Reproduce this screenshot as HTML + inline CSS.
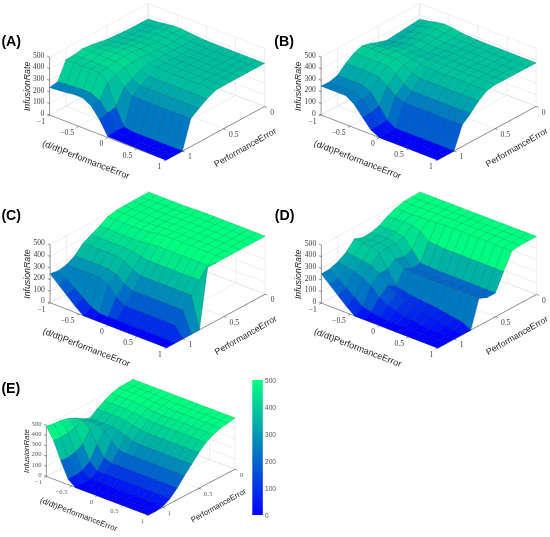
<!DOCTYPE html>
<html><head><meta charset="utf-8"><style>html,body{margin:0;padding:0;background:#fff}svg{display:block}</style></head>
<body><svg width="550" height="537" viewBox="0 0 550 537">
<rect width="550" height="537" fill="#fff"/>
<g stroke="#dedede" stroke-width="0.5" fill="none">
<line x1="49.6" y1="115.1" x2="148.2" y2="61.6"/>
<line x1="148.2" y1="61.6" x2="264.6" y2="106.5"/>
<line x1="49.6" y1="103.5" x2="148.2" y2="50"/>
<line x1="148.2" y1="50" x2="264.6" y2="94.9"/>
<line x1="49.6" y1="91.9" x2="148.2" y2="38.4"/>
<line x1="148.2" y1="38.4" x2="264.6" y2="83.3"/>
<line x1="49.6" y1="80.3" x2="148.2" y2="26.8"/>
<line x1="148.2" y1="26.8" x2="264.6" y2="71.7"/>
<line x1="49.6" y1="68.7" x2="148.2" y2="15.2"/>
<line x1="148.2" y1="15.2" x2="264.6" y2="60.1"/>
<line x1="49.6" y1="57.1" x2="148.2" y2="3.6"/>
<line x1="148.2" y1="3.6" x2="264.6" y2="48.5"/>
<line x1="148.2" y1="61.6" x2="148.2" y2="3.6"/>
<line x1="148.2" y1="61.6" x2="49.6" y2="115.1"/>
<line x1="177.3" y1="72.82" x2="177.3" y2="14.82"/>
<line x1="177.3" y1="72.82" x2="78.7" y2="126.32"/>
<line x1="206.4" y1="84.05" x2="206.4" y2="26.05"/>
<line x1="206.4" y1="84.05" x2="107.8" y2="137.55"/>
<line x1="235.5" y1="95.27" x2="235.5" y2="37.27"/>
<line x1="235.5" y1="95.27" x2="136.9" y2="148.77"/>
<line x1="264.6" y1="106.5" x2="264.6" y2="48.5"/>
<line x1="264.6" y1="106.5" x2="166" y2="160"/>
<line x1="148.2" y1="61.6" x2="148.2" y2="3.6"/>
<line x1="148.2" y1="61.6" x2="264.6" y2="106.5"/>
<line x1="107.12" y1="83.89" x2="107.12" y2="25.89"/>
<line x1="107.12" y1="83.89" x2="223.52" y2="128.79"/>
<line x1="66.03" y1="106.18" x2="66.03" y2="48.18"/>
<line x1="66.03" y1="106.18" x2="182.43" y2="151.08"/>
</g>
<g stroke="#4d4d4d" stroke-width="0.6" fill="none"><line x1="49.6" y1="115.1" x2="49.6" y2="57.1"/><line x1="49.6" y1="115.1" x2="166" y2="160"/><line x1="166" y1="160" x2="264.6" y2="106.5"/><line x1="49.6" y1="115.1" x2="47.17" y2="114.16"/><line x1="49.6" y1="103.5" x2="47.17" y2="102.56"/><line x1="49.6" y1="91.9" x2="47.17" y2="90.96"/><line x1="49.6" y1="80.3" x2="47.17" y2="79.36"/><line x1="49.6" y1="68.7" x2="47.17" y2="67.76"/><line x1="49.6" y1="57.1" x2="47.17" y2="56.16"/><line x1="49.6" y1="115.1" x2="47.31" y2="116.34"/><line x1="78.7" y1="126.32" x2="76.41" y2="127.56"/><line x1="107.8" y1="137.55" x2="105.51" y2="138.79"/><line x1="136.9" y1="148.77" x2="134.61" y2="150.01"/><line x1="166" y1="160" x2="163.71" y2="161.24"/><line x1="264.6" y1="106.5" x2="267.03" y2="107.44"/><line x1="223.52" y1="128.79" x2="225.94" y2="129.73"/><line x1="182.43" y1="151.08" x2="184.86" y2="152.02"/></g>
<g stroke-width="0.5" stroke-linejoin="round"><path d="M148.2 19.06L156.51 21.68L148.3 25.96L139.98 23.34Z" fill="#00baa2" stroke="#00917e"/><path d="M156.51 21.68L164.83 23.72L156.61 28.01L148.3 25.96Z" fill="#00bea0" stroke="#00947c"/><path d="M139.98 23.34L148.3 25.96L140.08 30.25L131.77 27.63Z" fill="#00bea0" stroke="#00947c"/><path d="M164.83 23.72L173.14 25.81L164.93 30.1L156.61 28.01Z" fill="#00c29e" stroke="#00977b"/><path d="M148.3 25.96L156.61 28.01L148.4 32.29L140.08 30.25Z" fill="#00bea0" stroke="#00947c"/><path d="M131.77 27.63L140.08 30.25L131.86 34.47L123.55 31.85Z" fill="#00bea0" stroke="#00947c"/><path d="M173.14 25.81L181.46 28.97L173.24 33.27L164.93 30.1Z" fill="#00ca9a" stroke="#009d78"/><path d="M156.61 28.01L164.93 30.1L156.71 34.38L148.4 32.29Z" fill="#00c69c" stroke="#009a79"/><path d="M140.08 30.25L148.4 32.29L140.18 36.52L131.86 34.47Z" fill="#00bea0" stroke="#00947c"/><path d="M181.46 28.97L189.77 33.03L181.55 37.38L173.24 33.27Z" fill="#00ca9a" stroke="#009d78"/><path d="M123.55 31.85L131.86 34.47L123.65 38.24L115.33 35.62Z" fill="#00bea0" stroke="#00947c"/><path d="M164.93 30.1L173.24 33.27L165.02 37.56L156.71 34.38Z" fill="#00ca9a" stroke="#009d78"/><path d="M148.4 32.29L156.71 34.38L148.49 38.61L140.18 36.52Z" fill="#00c69c" stroke="#009a79"/><path d="M189.77 33.03L198.09 37.06L189.87 41.49L181.55 37.38Z" fill="#00c69c" stroke="#009a79"/><path d="M131.86 34.47L140.18 36.52L131.96 40.28L123.65 38.24Z" fill="#00c29e" stroke="#00977b"/><path d="M173.24 33.27L181.55 37.38L173.34 41.73L165.02 37.56Z" fill="#00ca9a" stroke="#009d78"/><path d="M115.33 35.62L123.65 38.24L115.43 42L107.12 39.38Z" fill="#00c29e" stroke="#00977b"/><path d="M156.71 34.38L165.02 37.56L156.81 41.8L148.49 38.61Z" fill="#00ca9a" stroke="#009d78"/><path d="M198.09 37.06L206.4 40.7L198.18 45.15L189.87 41.49Z" fill="#00c29e" stroke="#00977b"/><path d="M140.18 36.52L148.49 38.61L140.28 42.37L131.96 40.28Z" fill="#00c69c" stroke="#009a79"/><path d="M181.55 37.38L189.87 41.49L181.65 45.91L173.34 41.73Z" fill="#00c69c" stroke="#009a79"/><path d="M123.65 38.24L131.96 40.28L123.75 44.04L115.43 42Z" fill="#00c29e" stroke="#00977b"/><path d="M165.02 37.56L173.34 41.73L165.12 46.05L156.81 41.8Z" fill="#00ca9a" stroke="#009d78"/><path d="M107.12 39.38L115.43 42L107.21 44.95L98.9 42.33Z" fill="#00c69c" stroke="#009a79"/><path d="M206.4 40.7L214.71 44.07L206.5 48.53L198.18 45.15Z" fill="#00bea0" stroke="#00947c"/><path d="M148.49 38.61L156.81 41.8L148.59 45.6L140.28 42.37Z" fill="#00ca9a" stroke="#009d78"/><path d="M189.87 41.49L198.18 45.15L189.97 49.61L181.65 45.91Z" fill="#00c29e" stroke="#00977b"/><path d="M131.96 40.28L140.28 42.37L132.06 46.13L123.75 44.04Z" fill="#00ca9a" stroke="#009d78"/><path d="M173.34 41.73L181.65 45.91L173.44 50.32L165.12 46.05Z" fill="#00c69c" stroke="#009a79"/><path d="M115.43 42L123.75 44.04L115.53 46.99L107.21 44.95Z" fill="#00c69c" stroke="#009a79"/><path d="M214.71 44.07L223.03 47.31L214.81 51.77L206.5 48.53Z" fill="#00bea0" stroke="#00947c"/><path d="M156.81 41.8L165.12 46.05L156.9 50.09L148.59 45.6Z" fill="#00ca9a" stroke="#009d78"/><path d="M98.9 42.33L107.21 44.95L99 48.06L90.68 45.15Z" fill="#00ca9a" stroke="#009d78"/><path d="M198.18 45.15L206.5 48.53L198.28 52.99L189.97 49.61Z" fill="#00bea0" stroke="#00947c"/><path d="M140.28 42.37L148.59 45.6L140.37 49.4L132.06 46.13Z" fill="#00ce98" stroke="#00a076"/><path d="M181.65 45.91L189.97 49.61L181.75 54.07L173.44 50.32Z" fill="#00c29e" stroke="#00977b"/><path d="M123.75 44.04L132.06 46.13L123.84 49.08L115.53 46.99Z" fill="#00ce98" stroke="#00a076"/><path d="M223.03 47.31L231.34 50.52L223.13 54.98L214.81 51.77Z" fill="#00bea0" stroke="#00947c"/><path d="M165.12 46.05L173.44 50.32L165.22 54.64L156.9 50.09Z" fill="#00c69c" stroke="#009a79"/><path d="M107.21 44.95L115.53 46.99L107.31 50.69L99 48.06Z" fill="#00ce98" stroke="#00a076"/><path d="M206.5 48.53L214.81 51.77L206.6 56.23L198.28 52.99Z" fill="#00bea0" stroke="#00947c"/><path d="M148.59 45.6L156.9 50.09L148.69 54.12L140.37 49.4Z" fill="#00ce98" stroke="#00a076"/><path d="M90.68 45.15L99 48.06L90.78 51.99L82.47 48.78Z" fill="#00d296" stroke="#00a375"/><path d="M189.97 49.61L198.28 52.99L190.06 57.45L181.75 54.07Z" fill="#00bea0" stroke="#00947c"/><path d="M132.06 46.13L140.37 49.4L132.16 52.46L123.84 49.08Z" fill="#00d296" stroke="#00a375"/><path d="M231.34 50.52L239.66 53.73L231.44 58.18L223.13 54.98Z" fill="#00bea0" stroke="#00947c"/><path d="M173.44 50.32L181.75 54.07L173.53 58.53L165.22 54.64Z" fill="#00c29e" stroke="#00977b"/><path d="M115.53 46.99L123.84 49.08L115.63 53.34L107.31 50.69Z" fill="#00d296" stroke="#00a375"/><path d="M214.81 51.77L223.13 54.98L214.91 59.44L206.6 56.23Z" fill="#00bea0" stroke="#00947c"/><path d="M156.9 50.09L165.22 54.64L157 58.97L148.69 54.12Z" fill="#00ca9a" stroke="#009d78"/><path d="M99 48.06L107.31 50.69L99.1 55.19L90.78 51.99Z" fill="#00d296" stroke="#00a375"/><path d="M198.28 52.99L206.6 56.23L198.38 60.68L190.06 57.45Z" fill="#00bea0" stroke="#00947c"/><path d="M140.37 49.4L148.69 54.12L140.47 57.85L132.16 52.46Z" fill="#00d296" stroke="#00a375"/><path d="M239.66 53.73L247.97 56.93L239.75 61.39L231.44 58.18Z" fill="#00bea0" stroke="#00947c"/><path d="M82.47 48.78L90.78 51.99L82.56 57.95L74.25 54.74Z" fill="#00d794" stroke="#00a773"/><path d="M181.75 54.07L190.06 57.45L181.85 61.91L173.53 58.53Z" fill="#00bea0" stroke="#00947c"/><path d="M123.84 49.08L132.16 52.46L123.94 56.54L115.63 53.34Z" fill="#00d794" stroke="#00a773"/><path d="M223.13 54.98L231.44 58.18L223.22 62.64L214.91 59.44Z" fill="#00bea0" stroke="#00947c"/><path d="M165.22 54.64L173.53 58.53L165.32 62.99L157 58.97Z" fill="#00c29e" stroke="#00977b"/><path d="M107.31 50.69L115.63 53.34L107.41 58.4L99.1 55.19Z" fill="#00d794" stroke="#00a773"/><path d="M206.6 56.23L214.91 59.44L206.69 63.89L198.38 60.68Z" fill="#00bea0" stroke="#00947c"/><path d="M148.69 54.12L157 58.97L148.79 63.5L140.47 57.85Z" fill="#00ca9a" stroke="#009d78"/><path d="M247.97 56.93L256.29 60.14L248.07 64.6L239.75 61.39Z" fill="#00bea0" stroke="#00947c"/><path d="M90.78 51.99L99.1 55.19L90.88 61.16L82.56 57.95Z" fill="#00d794" stroke="#00a773"/><path d="M190.06 57.45L198.38 60.68L190.16 65.14L181.85 61.91Z" fill="#00bea0" stroke="#00947c"/><path d="M132.16 52.46L140.47 57.85L132.25 62.03L123.94 56.54Z" fill="#00d794" stroke="#00a773"/><path d="M231.44 58.18L239.75 61.39L231.54 65.85L223.22 62.64Z" fill="#00bea0" stroke="#00947c"/><path d="M74.25 54.74L82.56 57.95L74.35 62.99L66.03 59.78Z" fill="#00ce98" stroke="#00a076"/><path d="M173.53 58.53L181.85 61.91L173.63 66.36L165.32 62.99Z" fill="#00bea0" stroke="#00947c"/><path d="M115.63 53.34L123.94 56.54L115.72 61.61L107.41 58.4Z" fill="#00db92" stroke="#00aa71"/><path d="M214.91 59.44L223.22 62.64L215.01 67.1L206.69 63.89Z" fill="#00bea0" stroke="#00947c"/><path d="M157 58.97L165.32 62.99L157.1 67.91L148.79 63.5Z" fill="#00c29e" stroke="#00977b"/><path d="M256.29 60.14L264.6 63.35L256.38 67.81L248.07 64.6Z" fill="#00bea0" stroke="#00947c"/><path d="M99.1 55.19L107.41 58.4L99.19 64.37L90.88 61.16Z" fill="#00d794" stroke="#00a773"/><path d="M198.38 60.68L206.69 63.89L198.48 68.35L190.16 65.14Z" fill="#00bea0" stroke="#00947c"/><path d="M140.47 57.85L148.79 63.5L140.57 70.26L132.25 62.03Z" fill="#00ce98" stroke="#00a076"/><path d="M239.75 61.39L248.07 64.6L239.85 69.06L231.54 65.85Z" fill="#00bea0" stroke="#00947c"/><path d="M82.56 57.95L90.88 61.16L82.66 66.2L74.35 62.99Z" fill="#00ce98" stroke="#00a076"/><path d="M181.85 61.91L190.16 65.14L181.95 69.6L173.63 66.36Z" fill="#00bea0" stroke="#00947c"/><path d="M123.94 56.54L132.25 62.03L124.04 67.76L115.72 61.61Z" fill="#00db92" stroke="#00aa71"/><path d="M223.22 62.64L231.54 65.85L223.32 70.31L215.01 67.1Z" fill="#00bea0" stroke="#00947c"/><path d="M66.03 59.78L74.35 62.99L66.13 84.39L57.82 81.64Z" fill="#00ce98" stroke="#00a076"/><path d="M165.32 62.99L173.63 66.36L165.41 71.29L157.1 67.91Z" fill="#00bea0" stroke="#00947c"/><path d="M107.41 58.4L115.72 61.61L107.51 67.57L99.19 64.37Z" fill="#00d794" stroke="#00a773"/><path d="M206.69 63.89L215.01 67.1L206.79 71.56L198.48 68.35Z" fill="#00bea0" stroke="#00947c"/><path d="M148.79 63.5L157.1 67.91L148.88 76.3L140.57 70.26Z" fill="#00c29e" stroke="#00977b"/><path d="M248.07 64.6L256.38 67.81L248.17 72.26L239.85 69.06Z" fill="#00bea0" stroke="#00947c"/><path d="M90.88 61.16L99.19 64.37L90.98 69.4L82.66 66.2Z" fill="#00ce98" stroke="#00a076"/><path d="M190.16 65.14L198.48 68.35L190.26 72.81L181.95 69.6Z" fill="#00bea0" stroke="#00947c"/><path d="M132.25 62.03L140.57 70.26L132.35 78.54L124.04 67.76Z" fill="#00ce98" stroke="#00a076"/><path d="M231.54 65.85L239.85 69.06L231.64 73.52L223.32 70.31Z" fill="#00bea0" stroke="#00947c"/><path d="M74.35 62.99L82.66 66.2L74.45 87.13L66.13 84.39Z" fill="#00ce98" stroke="#00a076"/><path d="M173.63 66.36L181.95 69.6L173.73 74.52L165.41 71.29Z" fill="#00bea0" stroke="#00947c"/><path d="M115.72 61.61L124.04 67.76L115.82 74.58L107.51 67.57Z" fill="#00d794" stroke="#00a773"/><path d="M215.01 67.1L223.32 70.31L215.1 74.77L206.79 71.56Z" fill="#00bea0" stroke="#00947c"/><path d="M57.82 81.64L66.13 84.39L57.91 90L49.6 87.49Z" fill="#0082be" stroke="#006594"/><path d="M157.1 67.91L165.41 71.29L157.2 79.59L148.88 76.3Z" fill="#00bea0" stroke="#00947c"/><path d="M99.19 64.37L107.51 67.57L99.29 72.61L90.98 69.4Z" fill="#00ce98" stroke="#00a076"/><path d="M198.48 68.35L206.79 71.56L198.57 76.02L190.26 72.81Z" fill="#00bea0" stroke="#00947c"/><path d="M140.57 70.26L148.88 76.3L140.67 86.08L132.35 78.54Z" fill="#00baa2" stroke="#00917e"/><path d="M239.85 69.06L248.17 72.26L239.95 76.72L231.64 73.52Z" fill="#00bea0" stroke="#00947c"/><path d="M82.66 66.2L90.98 69.4L82.76 89.56L74.45 87.13Z" fill="#00ce98" stroke="#00a076"/><path d="M181.95 69.6L190.26 72.81L182.04 77.73L173.73 74.52Z" fill="#00bea0" stroke="#00947c"/><path d="M124.04 67.76L132.35 78.54L124.14 87.55L115.82 74.58Z" fill="#00ca9a" stroke="#009d78"/><path d="M223.32 70.31L231.64 73.52L223.42 77.97L215.1 74.77Z" fill="#00bea0" stroke="#00947c"/><path d="M66.13 84.39L74.45 87.13L66.23 92.52L57.91 90Z" fill="#0082be" stroke="#006594"/><path d="M165.41 71.29L173.73 74.52L165.51 82.81L157.2 79.59Z" fill="#00bea0" stroke="#00947c"/><path d="M107.51 67.57L115.82 74.58L107.6 83.28L99.29 72.61Z" fill="#00ce98" stroke="#00a076"/><path d="M206.79 71.56L215.1 74.77L206.89 79.23L198.57 76.02Z" fill="#00bea0" stroke="#00947c"/><path d="M148.88 76.3L157.2 79.59L148.98 89.28L140.67 86.08Z" fill="#00aaaa" stroke="#008484"/><path d="M90.98 69.4L99.29 72.61L91.07 93.14L82.76 89.56Z" fill="#00ce98" stroke="#00a076"/><path d="M190.26 72.81L198.57 76.02L190.36 80.94L182.04 77.73Z" fill="#00bea0" stroke="#00947c"/><path d="M132.35 78.54L140.67 86.08L132.45 96.33L124.14 87.55Z" fill="#00a6ac" stroke="#008186"/><path d="M231.64 73.52L239.95 76.72L231.73 81.18L223.42 77.97Z" fill="#00bea0" stroke="#00947c"/><path d="M74.45 87.13L82.76 89.56L74.54 94.56L66.23 92.52Z" fill="#0086bc" stroke="#006892"/><path d="M173.73 74.52L182.04 77.73L173.83 86.02L165.51 82.81Z" fill="#00bea0" stroke="#00947c"/><path d="M115.82 74.58L124.14 87.55L115.92 107.16L107.6 83.28Z" fill="#00bea0" stroke="#00947c"/><path d="M215.1 74.77L223.42 77.97L215.2 82.43L206.89 79.23Z" fill="#00bea0" stroke="#00947c"/><path d="M157.2 79.59L165.51 82.81L157.3 92.49L148.98 89.28Z" fill="#00aaaa" stroke="#008484"/><path d="M99.29 72.61L107.6 83.28L99.39 100.28L91.07 93.14Z" fill="#00ce98" stroke="#00a076"/><path d="M198.57 76.02L206.89 79.23L198.67 84.15L190.36 80.94Z" fill="#00bea0" stroke="#00947c"/><path d="M140.67 86.08L148.98 89.28L140.76 99.54L132.45 96.33Z" fill="#0096b4" stroke="#00758c"/><path d="M82.76 89.56L91.07 93.14L82.86 98.06L74.54 94.56Z" fill="#0086bc" stroke="#006892"/><path d="M182.04 77.73L190.36 80.94L182.14 89.23L173.83 86.02Z" fill="#00bea0" stroke="#00947c"/><path d="M124.14 87.55L132.45 96.33L124.23 127.04L115.92 107.16Z" fill="#0092b6" stroke="#00718d"/><path d="M223.42 77.97L231.73 81.18L223.52 85.64L215.2 82.43Z" fill="#00bea0" stroke="#00947c"/><path d="M165.51 82.81L173.83 86.02L165.61 95.7L157.3 92.49Z" fill="#00aaaa" stroke="#008484"/><path d="M107.6 83.28L115.92 107.16L107.7 113.03L99.39 100.28Z" fill="#00aaaa" stroke="#008484"/><path d="M206.89 79.23L215.2 82.43L206.99 87.35L198.67 84.15Z" fill="#00bea0" stroke="#00947c"/><path d="M148.98 89.28L157.3 92.49L149.08 102.75L140.76 99.54Z" fill="#0096b4" stroke="#00758c"/><path d="M91.07 93.14L99.39 100.28L91.17 105.89L82.86 98.06Z" fill="#0086bc" stroke="#006892"/><path d="M190.36 80.94L198.67 84.15L190.45 92.43L182.14 89.23Z" fill="#00bea0" stroke="#00947c"/><path d="M132.45 96.33L140.76 99.54L132.55 131.84L124.23 127.04Z" fill="#0079c2" stroke="#005e97"/><path d="M173.83 86.02L182.14 89.23L173.92 98.91L165.61 95.7Z" fill="#00aaaa" stroke="#008484"/><path d="M115.92 107.16L124.23 127.04L116.02 130.77L107.7 113.03Z" fill="#0051d7" stroke="#003fa7"/><path d="M215.2 82.43L223.52 85.64L215.3 90.56L206.99 87.35Z" fill="#00bea0" stroke="#00947c"/><path d="M157.3 92.49L165.61 95.7L157.39 105.96L149.08 102.75Z" fill="#0096b4" stroke="#00758c"/><path d="M99.39 100.28L107.7 113.03L99.49 119.52L91.17 105.89Z" fill="#0075c4" stroke="#005b98"/><path d="M198.67 84.15L206.99 87.35L198.77 95.64L190.45 92.43Z" fill="#00bea0" stroke="#00947c"/><path d="M140.76 99.54L149.08 102.75L140.86 135.05L132.55 131.84Z" fill="#0079c2" stroke="#005e97"/><path d="M182.14 89.23L190.45 92.43L182.24 102.11L173.92 98.91Z" fill="#00aaaa" stroke="#008484"/><path d="M124.23 127.04L132.55 131.84L124.33 136.3L116.02 130.77Z" fill="#0004fd" stroke="#0003c5"/><path d="M165.61 95.7L173.92 98.91L165.71 109.16L157.39 105.96Z" fill="#0096b4" stroke="#00758c"/><path d="M107.7 113.03L116.02 130.77L107.8 136.39L99.49 119.52Z" fill="#0049db" stroke="#0038aa"/><path d="M206.99 87.35L215.3 90.56L207.08 98.85L198.77 95.64Z" fill="#00bea0" stroke="#00947c"/><path d="M149.08 102.75L157.39 105.96L149.18 138.25L140.86 135.05Z" fill="#0079c2" stroke="#005e97"/><path d="M190.45 92.43L198.77 95.64L190.55 105.32L182.24 102.11Z" fill="#00aaaa" stroke="#008484"/><path d="M132.55 131.84L140.86 135.05L132.65 139.51L124.33 136.3Z" fill="#0000ff" stroke="#0000c6"/><path d="M173.92 98.91L182.24 102.11L174.02 112.37L165.71 109.16Z" fill="#0096b4" stroke="#00758c"/><path d="M116.02 130.77L124.33 136.3L116.11 139.76L107.8 136.39Z" fill="#0008fb" stroke="#0006c3"/><path d="M157.39 105.96L165.71 109.16L157.49 141.46L149.18 138.25Z" fill="#0079c2" stroke="#005e97"/><path d="M198.77 95.64L207.08 98.85L198.87 108.53L190.55 105.32Z" fill="#00aaaa" stroke="#008484"/><path d="M140.86 135.05L149.18 138.25L140.96 142.71L132.65 139.51Z" fill="#0000ff" stroke="#0000c6"/><path d="M182.24 102.11L190.55 105.32L182.34 115.58L174.02 112.37Z" fill="#0096b4" stroke="#00758c"/><path d="M124.33 136.3L132.65 139.51L124.43 143.14L116.11 139.76Z" fill="#0000ff" stroke="#0000c6"/><path d="M165.71 109.16L174.02 112.37L165.8 144.67L157.49 141.46Z" fill="#0079c2" stroke="#005e97"/><path d="M149.18 138.25L157.49 141.46L149.27 145.92L140.96 142.71Z" fill="#0000ff" stroke="#0000c6"/><path d="M190.55 105.32L198.87 108.53L190.65 118.78L182.34 115.58Z" fill="#0096b4" stroke="#00758c"/><path d="M132.65 139.51L140.96 142.71L132.74 146.51L124.43 143.14Z" fill="#0000ff" stroke="#0000c6"/><path d="M174.02 112.37L182.34 115.58L174.12 147.88L165.8 144.67Z" fill="#0079c2" stroke="#005e97"/><path d="M157.49 141.46L165.8 144.67L157.59 149.13L149.27 145.92Z" fill="#0000ff" stroke="#0000c6"/><path d="M140.96 142.71L149.27 145.92L141.06 149.88L132.74 146.51Z" fill="#0000ff" stroke="#0000c6"/><path d="M182.34 115.58L190.65 118.78L182.43 151.08L174.12 147.88Z" fill="#0079c2" stroke="#005e97"/><path d="M165.8 144.67L174.12 147.88L165.9 152.33L157.59 149.13Z" fill="#0000ff" stroke="#0000c6"/><path d="M149.27 145.92L157.59 149.13L149.37 153.25L141.06 149.88Z" fill="#0000ff" stroke="#0000c6"/><path d="M174.12 147.88L182.43 151.08L174.22 155.54L165.9 152.33Z" fill="#0000ff" stroke="#0000c6"/><path d="M157.59 149.13L165.9 152.33L157.69 156.63L149.37 153.25Z" fill="#0000ff" stroke="#0000c6"/><path d="M165.9 152.33L174.22 155.54L166 160L157.69 156.63Z" fill="#0000ff" stroke="#0000c6"/></g>
<g font-family="Liberation Serif, serif" font-size="7.6" fill="#3a3a3a"><text x="44.4" y="115.7" text-anchor="end">0</text><text x="44.4" y="104.1" text-anchor="end">100</text><text x="44.4" y="92.5" text-anchor="end">200</text><text x="44.4" y="80.9" text-anchor="end">300</text><text x="44.4" y="69.3" text-anchor="end">400</text><text x="44.4" y="57.7" text-anchor="end">500</text><text x="45" y="123.9" text-anchor="end">−1</text><text x="74.1" y="135.12" text-anchor="end">−0.5</text><text x="103.2" y="146.35" text-anchor="end">0</text><text x="132.3" y="157.57" text-anchor="end">0.5</text><text x="161.4" y="168.8" text-anchor="end">1</text><text x="270.2" y="114.7">0</text><text x="229.12" y="136.99">0.5</text><text x="188.03" y="159.28">1</text></g>
<g font-family="Liberation Sans, Arial, sans-serif" fill="#262626"><text transform="translate(29.6 86.4) rotate(-90)" font-size="8.8" font-style="italic" text-anchor="middle">InfusionRate</text><text transform="translate(84.9 162.4) rotate(21.09)" font-size="9.02" text-anchor="middle">(d/dt)PerformanceError</text><text transform="translate(246.7 149.9) rotate(-29.78)" font-size="8.8" text-anchor="middle">PerformanceError</text></g>
<g stroke="#dedede" stroke-width="0.5" fill="none">
<line x1="321.1" y1="115" x2="419.7" y2="61.5"/>
<line x1="419.7" y1="61.5" x2="536.1" y2="106.4"/>
<line x1="321.1" y1="103.4" x2="419.7" y2="49.9"/>
<line x1="419.7" y1="49.9" x2="536.1" y2="94.8"/>
<line x1="321.1" y1="91.8" x2="419.7" y2="38.3"/>
<line x1="419.7" y1="38.3" x2="536.1" y2="83.2"/>
<line x1="321.1" y1="80.2" x2="419.7" y2="26.7"/>
<line x1="419.7" y1="26.7" x2="536.1" y2="71.6"/>
<line x1="321.1" y1="68.6" x2="419.7" y2="15.1"/>
<line x1="419.7" y1="15.1" x2="536.1" y2="60"/>
<line x1="321.1" y1="57" x2="419.7" y2="3.5"/>
<line x1="419.7" y1="3.5" x2="536.1" y2="48.4"/>
<line x1="419.7" y1="61.5" x2="419.7" y2="3.5"/>
<line x1="419.7" y1="61.5" x2="321.1" y2="115"/>
<line x1="448.8" y1="72.72" x2="448.8" y2="14.72"/>
<line x1="448.8" y1="72.72" x2="350.2" y2="126.22"/>
<line x1="477.9" y1="83.95" x2="477.9" y2="25.95"/>
<line x1="477.9" y1="83.95" x2="379.3" y2="137.45"/>
<line x1="507" y1="95.18" x2="507" y2="37.18"/>
<line x1="507" y1="95.18" x2="408.4" y2="148.68"/>
<line x1="536.1" y1="106.4" x2="536.1" y2="48.4"/>
<line x1="536.1" y1="106.4" x2="437.5" y2="159.9"/>
<line x1="419.7" y1="61.5" x2="419.7" y2="3.5"/>
<line x1="419.7" y1="61.5" x2="536.1" y2="106.4"/>
<line x1="378.62" y1="83.79" x2="378.62" y2="25.79"/>
<line x1="378.62" y1="83.79" x2="495.02" y2="128.69"/>
<line x1="337.53" y1="106.08" x2="337.53" y2="48.08"/>
<line x1="337.53" y1="106.08" x2="453.93" y2="150.98"/>
</g>
<g stroke="#4d4d4d" stroke-width="0.6" fill="none"><line x1="321.1" y1="115" x2="321.1" y2="57"/><line x1="321.1" y1="115" x2="437.5" y2="159.9"/><line x1="437.5" y1="159.9" x2="536.1" y2="106.4"/><line x1="321.1" y1="115" x2="318.67" y2="114.06"/><line x1="321.1" y1="103.4" x2="318.67" y2="102.46"/><line x1="321.1" y1="91.8" x2="318.67" y2="90.86"/><line x1="321.1" y1="80.2" x2="318.67" y2="79.26"/><line x1="321.1" y1="68.6" x2="318.67" y2="67.66"/><line x1="321.1" y1="57" x2="318.67" y2="56.06"/><line x1="321.1" y1="115" x2="318.81" y2="116.24"/><line x1="350.2" y1="126.22" x2="347.91" y2="127.46"/><line x1="379.3" y1="137.45" x2="377.01" y2="138.69"/><line x1="408.4" y1="148.68" x2="406.11" y2="149.91"/><line x1="437.5" y1="159.9" x2="435.21" y2="161.14"/><line x1="536.1" y1="106.4" x2="538.53" y2="107.34"/><line x1="495.02" y1="128.69" x2="497.44" y2="129.63"/><line x1="453.93" y1="150.98" x2="456.36" y2="151.92"/></g>
<g stroke-width="0.5" stroke-linejoin="round"><path d="M419.7 19.19L428.01 21.12L419.8 26.45L411.48 24.52Z" fill="#00baa2" stroke="#00917e"/><path d="M428.01 21.12L436.33 22.29L428.11 27.62L419.8 26.45Z" fill="#00c29e" stroke="#00977b"/><path d="M411.48 24.52L419.8 26.45L411.58 31.77L403.27 29.85Z" fill="#00b6a4" stroke="#008d7f"/><path d="M436.33 22.29L444.64 24.17L436.43 29.5L428.11 27.62Z" fill="#00ca9a" stroke="#009d78"/><path d="M419.8 26.45L428.11 27.62L419.9 32.94L411.58 31.77Z" fill="#00bea0" stroke="#00947c"/><path d="M403.27 29.85L411.58 31.77L403.36 36.99L395.05 35.06Z" fill="#00b2a6" stroke="#008a81"/><path d="M444.64 24.17L452.96 28.13L444.74 33.45L436.43 29.5Z" fill="#00ce98" stroke="#00a076"/><path d="M428.11 27.62L436.43 29.5L428.21 34.82L419.9 32.94Z" fill="#00c69c" stroke="#009a79"/><path d="M411.58 31.77L419.9 32.94L411.68 38.16L403.36 36.99Z" fill="#00baa2" stroke="#00917e"/><path d="M452.96 28.13L461.27 32.85L453.05 37.89L444.74 33.45Z" fill="#00ca9a" stroke="#009d78"/><path d="M395.05 35.06L403.36 36.99L395.15 42.2L386.83 40.27Z" fill="#00aea8" stroke="#008783"/><path d="M436.43 29.5L444.74 33.45L436.52 38.77L428.21 34.82Z" fill="#00ca9a" stroke="#009d78"/><path d="M419.9 32.94L428.21 34.82L419.99 40.04L411.68 38.16Z" fill="#00c29e" stroke="#00977b"/><path d="M461.27 32.85L469.59 36.83L461.37 41.44L453.05 37.89Z" fill="#00c69c" stroke="#009a79"/><path d="M403.36 36.99L411.68 38.16L403.46 43.37L395.15 42.2Z" fill="#00b6a4" stroke="#008d7f"/><path d="M444.74 33.45L453.05 37.89L444.84 42.94L436.52 38.77Z" fill="#00ca9a" stroke="#009d78"/><path d="M386.83 40.27L395.15 42.2L386.93 44.6L378.62 42.24Z" fill="#00aea8" stroke="#008783"/><path d="M428.21 34.82L436.52 38.77L428.31 43.98L419.99 40.04Z" fill="#00c69c" stroke="#009a79"/><path d="M469.59 36.83L477.9 40.27L469.68 44.66L461.37 41.44Z" fill="#00c29e" stroke="#00977b"/><path d="M411.68 38.16L419.99 40.04L411.78 45.25L403.46 43.37Z" fill="#00bea0" stroke="#00947c"/><path d="M453.05 37.89L461.37 41.44L453.15 46.06L444.84 42.94Z" fill="#00c29e" stroke="#00977b"/><path d="M395.15 42.2L403.46 43.37L395.25 46.45L386.93 44.6Z" fill="#00b2a6" stroke="#008a81"/><path d="M436.52 38.77L444.84 42.94L436.62 47.9L428.31 43.98Z" fill="#00c69c" stroke="#009a79"/><path d="M378.62 42.24L386.93 44.6L378.71 46.19L370.4 43.41Z" fill="#00b6a4" stroke="#008d7f"/><path d="M477.9 40.27L486.21 43.63L478 48.02L469.68 44.66Z" fill="#00c29e" stroke="#00977b"/><path d="M419.99 40.04L428.31 43.98L420.09 49.18L411.78 45.25Z" fill="#00c69c" stroke="#009a79"/><path d="M461.37 41.44L469.68 44.66L461.47 49.05L453.15 46.06Z" fill="#00c29e" stroke="#00977b"/><path d="M403.46 43.37L411.78 45.25L403.56 48.77L395.25 46.45Z" fill="#00baa2" stroke="#00917e"/><path d="M444.84 42.94L453.15 46.06L444.94 50.64L436.62 47.9Z" fill="#00c29e" stroke="#00977b"/><path d="M386.93 44.6L395.25 46.45L387.03 48.72L378.71 46.19Z" fill="#00baa2" stroke="#00917e"/><path d="M486.21 43.63L494.53 46.86L486.31 51.25L478 48.02Z" fill="#00c29e" stroke="#00977b"/><path d="M428.31 43.98L436.62 47.9L428.4 52.86L420.09 49.18Z" fill="#00c29e" stroke="#00977b"/><path d="M370.4 43.41L378.71 46.19L370.5 48.94L362.18 45.73Z" fill="#00c69c" stroke="#009a79"/><path d="M469.68 44.66L478 48.02L469.78 52.41L461.47 49.05Z" fill="#00c29e" stroke="#00977b"/><path d="M411.78 45.25L420.09 49.18L411.87 52.47L403.56 48.77Z" fill="#00c29e" stroke="#00977b"/><path d="M453.15 46.06L461.47 49.05L453.25 53.44L444.94 50.64Z" fill="#00c29e" stroke="#00977b"/><path d="M395.25 46.45L403.56 48.77L395.34 51.48L387.03 48.72Z" fill="#00c29e" stroke="#00977b"/><path d="M494.53 46.86L502.84 50.07L494.63 54.46L486.31 51.25Z" fill="#00c29e" stroke="#00977b"/><path d="M436.62 47.9L444.94 50.64L436.72 55.23L428.4 52.86Z" fill="#00bea0" stroke="#00947c"/><path d="M378.71 46.19L387.03 48.72L378.81 52.14L370.5 48.94Z" fill="#00c69c" stroke="#009a79"/><path d="M478 48.02L486.31 51.25L478.1 55.64L469.78 52.41Z" fill="#00c29e" stroke="#00977b"/><path d="M420.09 49.18L428.4 52.86L420.19 56.24L411.87 52.47Z" fill="#00bea0" stroke="#00947c"/><path d="M362.18 45.73L370.5 48.94L362.28 56.29L353.97 53.09Z" fill="#00ce98" stroke="#00a076"/><path d="M461.47 49.05L469.78 52.41L461.56 56.8L453.25 53.44Z" fill="#00c29e" stroke="#00977b"/><path d="M403.56 48.77L411.87 52.47L403.66 54.96L395.34 51.48Z" fill="#00c69c" stroke="#009a79"/><path d="M502.84 50.07L511.16 53.28L502.94 57.67L494.63 54.46Z" fill="#00c29e" stroke="#00977b"/><path d="M444.94 50.64L453.25 53.44L445.03 57.82L436.72 55.23Z" fill="#00bea0" stroke="#00947c"/><path d="M387.03 48.72L395.34 51.48L387.13 55.35L378.81 52.14Z" fill="#00ca9a" stroke="#009d78"/><path d="M486.31 51.25L494.63 54.46L486.41 58.85L478.1 55.64Z" fill="#00c29e" stroke="#00977b"/><path d="M428.4 52.86L436.72 55.23L428.5 59.27L420.19 56.24Z" fill="#00baa2" stroke="#00917e"/><path d="M370.5 48.94L378.81 52.14L370.6 59.5L362.28 56.29Z" fill="#00ce98" stroke="#00a076"/><path d="M469.78 52.41L478.1 55.64L469.88 60.03L461.56 56.8Z" fill="#00c29e" stroke="#00977b"/><path d="M411.87 52.47L420.19 56.24L411.97 59.53L403.66 54.96Z" fill="#00c29e" stroke="#00977b"/><path d="M511.16 53.28L519.47 56.49L511.25 60.87L502.94 57.67Z" fill="#00c29e" stroke="#00977b"/><path d="M353.97 53.09L362.28 56.29L354.06 66.55L345.75 63.34Z" fill="#00c29e" stroke="#00977b"/><path d="M453.25 53.44L461.56 56.8L453.35 61.19L445.03 57.82Z" fill="#00c29e" stroke="#00977b"/><path d="M395.34 51.48L403.66 54.96L395.44 58.63L387.13 55.35Z" fill="#00ce98" stroke="#00a076"/><path d="M494.63 54.46L502.94 57.67L494.72 62.06L486.41 58.85Z" fill="#00c29e" stroke="#00977b"/><path d="M436.72 55.23L445.03 57.82L436.82 62.27L428.5 59.27Z" fill="#00bea0" stroke="#00947c"/><path d="M378.81 52.14L387.13 55.35L378.91 62.71L370.6 59.5Z" fill="#00ce98" stroke="#00a076"/><path d="M478.1 55.64L486.41 58.85L478.19 63.24L469.88 60.03Z" fill="#00c29e" stroke="#00977b"/><path d="M420.19 56.24L428.5 59.27L420.29 64.32L411.97 59.53Z" fill="#00c29e" stroke="#00977b"/><path d="M519.47 56.49L527.79 59.69L519.57 64.08L511.25 60.87Z" fill="#00c29e" stroke="#00977b"/><path d="M362.28 56.29L370.6 59.5L362.38 69.76L354.06 66.55Z" fill="#00c29e" stroke="#00977b"/><path d="M461.56 56.8L469.88 60.03L461.66 64.42L453.35 61.19Z" fill="#00c29e" stroke="#00977b"/><path d="M403.66 54.96L411.97 59.53L403.75 64.92L395.44 58.63Z" fill="#00ca9a" stroke="#009d78"/><path d="M502.94 57.67L511.25 60.87L503.04 65.26L494.72 62.06Z" fill="#00c29e" stroke="#00977b"/><path d="M345.75 63.34L354.06 66.55L345.85 78.55L337.53 75.34Z" fill="#00aaaa" stroke="#008484"/><path d="M445.03 57.82L453.35 61.19L445.13 65.58L436.82 62.27Z" fill="#00c29e" stroke="#00977b"/><path d="M387.13 55.35L395.44 58.63L387.22 66.02L378.91 62.71Z" fill="#00ce98" stroke="#00a076"/><path d="M486.41 58.85L494.72 62.06L486.51 66.44L478.19 63.24Z" fill="#00c29e" stroke="#00977b"/><path d="M428.5 59.27L436.82 62.27L428.6 68.3L420.29 64.32Z" fill="#00c29e" stroke="#00977b"/><path d="M527.79 59.69L536.1 62.9L527.88 67.29L519.57 64.08Z" fill="#00c29e" stroke="#00977b"/><path d="M370.6 59.5L378.91 62.71L370.69 72.97L362.38 69.76Z" fill="#00c29e" stroke="#00977b"/><path d="M469.88 60.03L478.19 63.24L469.98 67.63L461.66 64.42Z" fill="#00c29e" stroke="#00977b"/><path d="M411.97 59.53L420.29 64.32L412.07 72.92L403.75 64.92Z" fill="#00c69c" stroke="#009a79"/><path d="M511.25 60.87L519.57 64.08L511.35 68.47L503.04 65.26Z" fill="#00c29e" stroke="#00977b"/><path d="M354.06 66.55L362.38 69.76L354.16 81.76L345.85 78.55Z" fill="#00aaaa" stroke="#008484"/><path d="M453.35 61.19L461.66 64.42L453.45 68.81L445.13 65.58Z" fill="#00c29e" stroke="#00977b"/><path d="M395.44 58.63L403.75 64.92L395.54 73.86L387.22 66.02Z" fill="#00ce98" stroke="#00a076"/><path d="M494.72 62.06L503.04 65.26L494.82 69.65L486.51 66.44Z" fill="#00c29e" stroke="#00977b"/><path d="M337.53 75.34L345.85 78.55L337.63 85.33L329.32 82.12Z" fill="#0086bc" stroke="#006892"/><path d="M436.82 62.27L445.13 65.58L436.91 71.56L428.6 68.3Z" fill="#00c29e" stroke="#00977b"/><path d="M378.91 62.71L387.22 66.02L379.01 77.11L370.69 72.97Z" fill="#00c29e" stroke="#00977b"/><path d="M478.19 63.24L486.51 66.44L478.29 70.83L469.98 67.63Z" fill="#00c29e" stroke="#00977b"/><path d="M420.29 64.32L428.6 68.3L420.38 78.62L412.07 72.92Z" fill="#00bea0" stroke="#00947c"/><path d="M519.57 64.08L527.88 67.29L519.67 71.68L511.35 68.47Z" fill="#00c29e" stroke="#00977b"/><path d="M362.38 69.76L370.69 72.97L362.48 84.96L354.16 81.76Z" fill="#00aaaa" stroke="#008484"/><path d="M461.66 64.42L469.98 67.63L461.76 72.02L453.45 68.81Z" fill="#00c29e" stroke="#00977b"/><path d="M403.75 64.92L412.07 72.92L403.85 84.26L395.54 73.86Z" fill="#00c29e" stroke="#00977b"/><path d="M503.04 65.26L511.35 68.47L503.14 72.86L494.82 69.65Z" fill="#00c29e" stroke="#00977b"/><path d="M345.85 78.55L354.16 81.76L345.95 88.54L337.63 85.33Z" fill="#0086bc" stroke="#006892"/><path d="M445.13 65.58L453.45 68.81L445.23 74.77L436.91 71.56Z" fill="#00c29e" stroke="#00977b"/><path d="M387.22 66.02L395.54 73.86L387.32 86L379.01 77.11Z" fill="#00c29e" stroke="#00977b"/><path d="M486.51 66.44L494.82 69.65L486.6 74.04L478.29 70.83Z" fill="#00c29e" stroke="#00977b"/><path d="M329.32 82.12L337.63 85.33L329.41 89.21L321.1 86Z" fill="#007dc0" stroke="#006195"/><path d="M428.6 68.3L436.91 71.56L428.7 81.83L420.38 78.62Z" fill="#00baa2" stroke="#00917e"/><path d="M370.69 72.97L379.01 77.11L370.79 92.01L362.48 84.96Z" fill="#00aaaa" stroke="#008484"/><path d="M469.98 67.63L478.29 70.83L470.07 75.22L461.76 72.02Z" fill="#00c29e" stroke="#00977b"/><path d="M412.07 72.92L420.38 78.62L412.17 91.2L403.85 84.26Z" fill="#00aea8" stroke="#008783"/><path d="M511.35 68.47L519.67 71.68L511.45 76.07L503.14 72.86Z" fill="#00c29e" stroke="#00977b"/><path d="M354.16 81.76L362.48 84.96L354.26 91.75L345.95 88.54Z" fill="#0086bc" stroke="#006892"/><path d="M453.45 68.81L461.76 72.02L453.54 77.98L445.23 74.77Z" fill="#00c29e" stroke="#00977b"/><path d="M395.54 73.86L403.85 84.26L395.64 96.07L387.32 86Z" fill="#00aea8" stroke="#008783"/><path d="M494.82 69.65L503.14 72.86L494.92 77.25L486.6 74.04Z" fill="#00c29e" stroke="#00977b"/><path d="M337.63 85.33L345.95 88.54L337.73 92.41L329.41 89.21Z" fill="#007dc0" stroke="#006195"/><path d="M436.91 71.56L445.23 74.77L437.01 85.03L428.7 81.83Z" fill="#00baa2" stroke="#00917e"/><path d="M379.01 77.11L387.32 86L379.1 105.85L370.79 92.01Z" fill="#00a6ac" stroke="#008186"/><path d="M478.29 70.83L486.6 74.04L478.39 78.43L470.07 75.22Z" fill="#00c29e" stroke="#00977b"/><path d="M420.38 78.62L428.7 81.83L420.48 94.4L412.17 91.2Z" fill="#00a2ae" stroke="#007e87"/><path d="M362.48 84.96L370.79 92.01L362.57 99.54L354.26 91.75Z" fill="#0086bc" stroke="#006892"/><path d="M461.76 72.02L470.07 75.22L461.86 81.19L453.54 77.98Z" fill="#00c29e" stroke="#00977b"/><path d="M403.85 84.26L412.17 91.2L403.95 102.61L395.64 96.07Z" fill="#008eb8" stroke="#006e8f"/><path d="M503.14 72.86L511.45 76.07L503.23 80.45L494.92 77.25Z" fill="#00c29e" stroke="#00977b"/><path d="M345.95 88.54L354.26 91.75L346.04 95.81L337.73 92.41Z" fill="#007dc0" stroke="#006195"/><path d="M445.23 74.77L453.54 77.98L445.33 88.24L437.01 85.03Z" fill="#00baa2" stroke="#00917e"/><path d="M387.32 86L395.64 96.07L387.42 120.18L379.1 105.85Z" fill="#008aba" stroke="#006b91"/><path d="M486.6 74.04L494.92 77.25L486.7 81.64L478.39 78.43Z" fill="#00c29e" stroke="#00977b"/><path d="M428.7 81.83L437.01 85.03L428.8 97.61L420.48 94.4Z" fill="#00a2ae" stroke="#007e87"/><path d="M370.79 92.01L379.1 105.85L370.89 112.5L362.57 99.54Z" fill="#0075c4" stroke="#005b98"/><path d="M470.07 75.22L478.39 78.43L470.17 84.4L461.86 81.19Z" fill="#00c29e" stroke="#00977b"/><path d="M412.17 91.2L420.48 94.4L412.26 105.82L403.95 102.61Z" fill="#007dc0" stroke="#006195"/><path d="M354.26 91.75L362.57 99.54L354.36 104.58L346.04 95.81Z" fill="#007dc0" stroke="#006195"/><path d="M453.54 77.98L461.86 81.19L453.64 91.45L445.33 88.24Z" fill="#00baa2" stroke="#00917e"/><path d="M395.64 96.07L403.95 102.61L395.73 128.53L387.42 120.18Z" fill="#006dc8" stroke="#00559c"/><path d="M494.92 77.25L503.23 80.45L495.02 84.84L486.7 81.64Z" fill="#00c29e" stroke="#00977b"/><path d="M437.01 85.03L445.33 88.24L437.11 100.82L428.8 97.61Z" fill="#00a2ae" stroke="#007e87"/><path d="M379.1 105.85L387.42 120.18L379.2 125.39L370.89 112.5Z" fill="#0045dd" stroke="#0035ac"/><path d="M478.39 78.43L486.7 81.64L478.49 87.6L470.17 84.4Z" fill="#00c29e" stroke="#00977b"/><path d="M420.48 94.4L428.8 97.61L420.58 109.03L412.26 105.82Z" fill="#007dc0" stroke="#006195"/><path d="M362.57 99.54L370.89 112.5L362.67 117.57L354.36 104.58Z" fill="#0069ca" stroke="#00519d"/><path d="M461.86 81.19L470.17 84.4L461.95 94.65L453.64 91.45Z" fill="#00baa2" stroke="#00917e"/><path d="M403.95 102.61L412.26 105.82L404.05 131.74L395.73 128.53Z" fill="#005dd0" stroke="#0048a2"/><path d="M445.33 88.24L453.64 91.45L445.42 104.03L437.11 100.82Z" fill="#00a2ae" stroke="#007e87"/><path d="M387.42 120.18L395.73 128.53L387.52 132.99L379.2 125.39Z" fill="#0014f5" stroke="#000fbf"/><path d="M486.7 81.64L495.02 84.84L486.8 90.81L478.49 87.6Z" fill="#00c29e" stroke="#00977b"/><path d="M428.8 97.61L437.11 100.82L428.89 112.24L420.58 109.03Z" fill="#007dc0" stroke="#006195"/><path d="M370.89 112.5L379.2 125.39L370.99 130.09L362.67 117.57Z" fill="#003de1" stroke="#002faf"/><path d="M470.17 84.4L478.49 87.6L470.27 97.86L461.95 94.65Z" fill="#00baa2" stroke="#00917e"/><path d="M412.26 105.82L420.58 109.03L412.36 134.95L404.05 131.74Z" fill="#005dd0" stroke="#0048a2"/><path d="M453.64 91.45L461.95 94.65L453.74 107.23L445.42 104.03Z" fill="#00a2ae" stroke="#007e87"/><path d="M395.73 128.53L404.05 131.74L395.83 136.2L387.52 132.99Z" fill="#0000ff" stroke="#0000c6"/><path d="M437.11 100.82L445.42 104.03L437.21 115.44L428.89 112.24Z" fill="#007dc0" stroke="#006195"/><path d="M379.2 125.39L387.52 132.99L379.3 137.45L370.99 130.09Z" fill="#0010f7" stroke="#000cc0"/><path d="M478.49 87.6L486.8 90.81L478.58 101.07L470.27 97.86Z" fill="#00baa2" stroke="#00917e"/><path d="M420.58 109.03L428.89 112.24L420.68 138.15L412.36 134.95Z" fill="#005dd0" stroke="#0048a2"/><path d="M461.95 94.65L470.27 97.86L462.05 110.44L453.74 107.23Z" fill="#00a2ae" stroke="#007e87"/><path d="M404.05 131.74L412.36 134.95L404.15 139.41L395.83 136.2Z" fill="#0000ff" stroke="#0000c6"/><path d="M445.42 104.03L453.74 107.23L445.52 118.65L437.21 115.44Z" fill="#007dc0" stroke="#006195"/><path d="M387.52 132.99L395.83 136.2L387.61 140.66L379.3 137.45Z" fill="#0000ff" stroke="#0000c6"/><path d="M428.89 112.24L437.21 115.44L428.99 141.36L420.68 138.15Z" fill="#005dd0" stroke="#0048a2"/><path d="M470.27 97.86L478.58 101.07L470.37 113.65L462.05 110.44Z" fill="#00a2ae" stroke="#007e87"/><path d="M412.36 134.95L420.68 138.15L412.46 142.61L404.15 139.41Z" fill="#0000ff" stroke="#0000c6"/><path d="M453.74 107.23L462.05 110.44L453.84 121.86L445.52 118.65Z" fill="#007dc0" stroke="#006195"/><path d="M395.83 136.2L404.15 139.41L395.93 143.86L387.61 140.66Z" fill="#0000ff" stroke="#0000c6"/><path d="M437.21 115.44L445.52 118.65L437.3 144.57L428.99 141.36Z" fill="#005dd0" stroke="#0048a2"/><path d="M420.68 138.15L428.99 141.36L420.77 145.82L412.46 142.61Z" fill="#0000ff" stroke="#0000c6"/><path d="M462.05 110.44L470.37 113.65L462.15 125.06L453.84 121.86Z" fill="#007dc0" stroke="#006195"/><path d="M404.15 139.41L412.46 142.61L404.24 147.07L395.93 143.86Z" fill="#0000ff" stroke="#0000c6"/><path d="M445.52 118.65L453.84 121.86L445.62 147.78L437.3 144.57Z" fill="#005dd0" stroke="#0048a2"/><path d="M428.99 141.36L437.3 144.57L429.09 149.03L420.77 145.82Z" fill="#0000ff" stroke="#0000c6"/><path d="M412.46 142.61L420.77 145.82L412.56 150.28L404.24 147.07Z" fill="#0000ff" stroke="#0000c6"/><path d="M453.84 121.86L462.15 125.06L453.93 150.98L445.62 147.78Z" fill="#005dd0" stroke="#0048a2"/><path d="M437.3 144.57L445.62 147.78L437.4 152.23L429.09 149.03Z" fill="#0000ff" stroke="#0000c6"/><path d="M420.77 145.82L429.09 149.03L420.87 153.49L412.56 150.28Z" fill="#0000ff" stroke="#0000c6"/><path d="M445.62 147.78L453.93 150.98L445.72 155.44L437.4 152.23Z" fill="#0000ff" stroke="#0000c6"/><path d="M429.09 149.03L437.4 152.23L429.19 156.69L420.87 153.49Z" fill="#0000ff" stroke="#0000c6"/><path d="M437.4 152.23L445.72 155.44L437.5 159.9L429.19 156.69Z" fill="#0000ff" stroke="#0000c6"/></g>
<g font-family="Liberation Serif, serif" font-size="7.6" fill="#3a3a3a"><text x="315.9" y="115.6" text-anchor="end">0</text><text x="315.9" y="104" text-anchor="end">100</text><text x="315.9" y="92.4" text-anchor="end">200</text><text x="315.9" y="80.8" text-anchor="end">300</text><text x="315.9" y="69.2" text-anchor="end">400</text><text x="315.9" y="57.6" text-anchor="end">500</text><text x="316.5" y="123.8" text-anchor="end">−1</text><text x="345.6" y="135.03" text-anchor="end">−0.5</text><text x="374.7" y="146.25" text-anchor="end">0</text><text x="403.8" y="157.48" text-anchor="end">0.5</text><text x="432.9" y="168.7" text-anchor="end">1</text><text x="541.7" y="114.6">0</text><text x="500.62" y="136.89">0.5</text><text x="459.53" y="159.18">1</text></g>
<g font-family="Liberation Sans, Arial, sans-serif" fill="#262626"><text transform="translate(301.1 86.3) rotate(-90)" font-size="8.8" font-style="italic" text-anchor="middle">InfusionRate</text><text transform="translate(356.4 162.3) rotate(21.09)" font-size="9.02" text-anchor="middle">(d/dt)PerformanceError</text><text transform="translate(518.2 149.8) rotate(-29.78)" font-size="8.8" text-anchor="middle">PerformanceError</text></g>
<g stroke="#dedede" stroke-width="0.5" fill="none">
<line x1="50.1" y1="302.8" x2="148.7" y2="249.3"/>
<line x1="148.7" y1="249.3" x2="265.1" y2="294.2"/>
<line x1="50.1" y1="291.2" x2="148.7" y2="237.7"/>
<line x1="148.7" y1="237.7" x2="265.1" y2="282.6"/>
<line x1="50.1" y1="279.6" x2="148.7" y2="226.1"/>
<line x1="148.7" y1="226.1" x2="265.1" y2="271"/>
<line x1="50.1" y1="268" x2="148.7" y2="214.5"/>
<line x1="148.7" y1="214.5" x2="265.1" y2="259.4"/>
<line x1="50.1" y1="256.4" x2="148.7" y2="202.9"/>
<line x1="148.7" y1="202.9" x2="265.1" y2="247.8"/>
<line x1="50.1" y1="244.8" x2="148.7" y2="191.3"/>
<line x1="148.7" y1="191.3" x2="265.1" y2="236.2"/>
<line x1="148.7" y1="249.3" x2="148.7" y2="191.3"/>
<line x1="148.7" y1="249.3" x2="50.1" y2="302.8"/>
<line x1="177.8" y1="260.53" x2="177.8" y2="202.53"/>
<line x1="177.8" y1="260.53" x2="79.2" y2="314.03"/>
<line x1="206.9" y1="271.75" x2="206.9" y2="213.75"/>
<line x1="206.9" y1="271.75" x2="108.3" y2="325.25"/>
<line x1="236" y1="282.98" x2="236" y2="224.98"/>
<line x1="236" y1="282.98" x2="137.4" y2="336.48"/>
<line x1="265.1" y1="294.2" x2="265.1" y2="236.2"/>
<line x1="265.1" y1="294.2" x2="166.5" y2="347.7"/>
<line x1="148.7" y1="249.3" x2="148.7" y2="191.3"/>
<line x1="148.7" y1="249.3" x2="265.1" y2="294.2"/>
<line x1="107.62" y1="271.59" x2="107.62" y2="213.59"/>
<line x1="107.62" y1="271.59" x2="224.02" y2="316.49"/>
<line x1="66.53" y1="293.88" x2="66.53" y2="235.88"/>
<line x1="66.53" y1="293.88" x2="182.93" y2="338.78"/>
</g>
<g stroke="#4d4d4d" stroke-width="0.6" fill="none"><line x1="50.1" y1="302.8" x2="50.1" y2="244.8"/><line x1="50.1" y1="302.8" x2="166.5" y2="347.7"/><line x1="166.5" y1="347.7" x2="265.1" y2="294.2"/><line x1="50.1" y1="302.8" x2="47.67" y2="301.86"/><line x1="50.1" y1="291.2" x2="47.67" y2="290.26"/><line x1="50.1" y1="279.6" x2="47.67" y2="278.66"/><line x1="50.1" y1="268" x2="47.67" y2="267.06"/><line x1="50.1" y1="256.4" x2="47.67" y2="255.46"/><line x1="50.1" y1="244.8" x2="47.67" y2="243.86"/><line x1="50.1" y1="302.8" x2="47.81" y2="304.04"/><line x1="79.2" y1="314.03" x2="76.91" y2="315.26"/><line x1="108.3" y1="325.25" x2="106.01" y2="326.49"/><line x1="137.4" y1="336.48" x2="135.11" y2="337.71"/><line x1="166.5" y1="347.7" x2="164.21" y2="348.94"/><line x1="265.1" y1="294.2" x2="267.53" y2="295.14"/><line x1="224.02" y1="316.49" x2="226.44" y2="317.43"/><line x1="182.93" y1="338.78" x2="185.36" y2="339.72"/></g>
<g stroke-width="0.5" stroke-linejoin="round"><path d="M148.7 192.23L157.01 195.44L148.8 199.97L140.48 196.76Z" fill="#00fb82" stroke="#00c365"/><path d="M157.01 195.44L165.33 198.64L157.11 203.18L148.8 199.97Z" fill="#00fb82" stroke="#00c365"/><path d="M140.48 196.76L148.8 199.97L140.58 204.51L132.27 201.3Z" fill="#00fb82" stroke="#00c365"/><path d="M165.33 198.64L173.64 201.85L165.43 206.39L157.11 203.18Z" fill="#00fb82" stroke="#00c365"/><path d="M148.8 199.97L157.11 203.18L148.9 207.71L140.58 204.51Z" fill="#00fb82" stroke="#00c365"/><path d="M132.27 201.3L140.58 204.51L132.36 209.04L124.05 205.84Z" fill="#00fb82" stroke="#00c365"/><path d="M173.64 201.85L181.96 205.06L173.74 209.59L165.43 206.39Z" fill="#00fb82" stroke="#00c365"/><path d="M157.11 203.18L165.43 206.39L157.21 210.92L148.9 207.71Z" fill="#00fb82" stroke="#00c365"/><path d="M140.58 204.51L148.9 207.71L140.68 212.25L132.36 209.04Z" fill="#00fb82" stroke="#00c365"/><path d="M181.96 205.06L190.27 208.08L182.05 212.6L173.74 209.59Z" fill="#00fb82" stroke="#00c365"/><path d="M124.05 205.84L132.36 209.04L124.15 213.85L115.83 210.64Z" fill="#00fb82" stroke="#00c365"/><path d="M165.43 206.39L173.74 209.59L165.52 214.13L157.21 210.92Z" fill="#00fb82" stroke="#00c365"/><path d="M148.9 207.71L157.21 210.92L148.99 215.46L140.68 212.25Z" fill="#00fb82" stroke="#00c365"/><path d="M190.27 208.08L198.59 210.81L190.37 215.29L182.05 212.6Z" fill="#00ff80" stroke="#00c663"/><path d="M132.36 209.04L140.68 212.25L132.46 217.06L124.15 213.85Z" fill="#00fb82" stroke="#00c365"/><path d="M173.74 209.59L182.05 212.6L173.84 217.12L165.52 214.13Z" fill="#00fb82" stroke="#00c365"/><path d="M115.83 210.64L124.15 213.85L115.93 220.05L107.62 216.84Z" fill="#00fb82" stroke="#00c365"/><path d="M157.21 210.92L165.52 214.13L157.31 218.66L148.99 215.46Z" fill="#00fb82" stroke="#00c365"/><path d="M198.59 210.81L206.9 213.75L198.68 218.21L190.37 215.29Z" fill="#00ff80" stroke="#00c663"/><path d="M140.68 212.25L148.99 215.46L140.78 220.26L132.46 217.06Z" fill="#00fb82" stroke="#00c365"/><path d="M182.05 212.6L190.37 215.29L182.15 219.78L173.84 217.12Z" fill="#00ff80" stroke="#00c663"/><path d="M124.15 213.85L132.46 217.06L124.25 223.25L115.93 220.05Z" fill="#00fb82" stroke="#00c365"/><path d="M165.52 214.13L173.84 217.12L165.62 221.64L157.31 218.66Z" fill="#00fb82" stroke="#00c365"/><path d="M107.62 216.84L115.93 220.05L107.71 229.38L99.4 226.17Z" fill="#00f386" stroke="#00bd68"/><path d="M206.9 213.75L215.21 216.96L207 221.42L198.68 218.21Z" fill="#00ff80" stroke="#00c663"/><path d="M148.99 215.46L157.31 218.66L149.09 223.47L140.78 220.26Z" fill="#00fb82" stroke="#00c365"/><path d="M190.37 215.29L198.68 218.21L190.47 222.67L182.15 219.78Z" fill="#00ff80" stroke="#00c663"/><path d="M132.46 217.06L140.78 220.26L132.56 226.46L124.25 223.25Z" fill="#00fb82" stroke="#00c365"/><path d="M173.84 217.12L182.15 219.78L173.94 224.26L165.62 221.64Z" fill="#00ff80" stroke="#00c663"/><path d="M115.93 220.05L124.25 223.25L116.03 232.58L107.71 229.38Z" fill="#00f386" stroke="#00bd68"/><path d="M215.21 216.96L223.53 220.16L215.31 224.62L207 221.42Z" fill="#00ff80" stroke="#00c663"/><path d="M157.31 218.66L165.62 221.64L157.4 226.38L149.09 223.47Z" fill="#00fb82" stroke="#00c365"/><path d="M99.4 226.17L107.71 229.38L99.5 237.9L91.18 234.69Z" fill="#00df90" stroke="#00ad70"/><path d="M198.68 218.21L207 221.42L198.78 225.87L190.47 222.67Z" fill="#00ff80" stroke="#00c663"/><path d="M140.78 220.26L149.09 223.47L140.87 229.67L132.56 226.46Z" fill="#00fb82" stroke="#00c365"/><path d="M182.15 219.78L190.47 222.67L182.25 227.12L173.94 224.26Z" fill="#00ff80" stroke="#00c663"/><path d="M124.25 223.25L132.56 226.46L124.34 235.79L116.03 232.58Z" fill="#00f386" stroke="#00bd68"/><path d="M223.53 220.16L231.84 223.37L223.63 227.83L215.31 224.62Z" fill="#00ff80" stroke="#00c663"/><path d="M165.62 221.64L173.94 224.26L165.72 228.82L157.4 226.38Z" fill="#00fb82" stroke="#00c365"/><path d="M107.71 229.38L116.03 232.58L107.81 241.1L99.5 237.9Z" fill="#00df90" stroke="#00ad70"/><path d="M207 221.42L215.31 224.62L207.1 229.08L198.78 225.87Z" fill="#00ff80" stroke="#00c663"/><path d="M149.09 223.47L157.4 226.38L149.19 232.23L140.87 229.67Z" fill="#00fb82" stroke="#00c365"/><path d="M91.18 234.69L99.5 237.9L91.28 246.41L82.97 243.21Z" fill="#00ca9a" stroke="#009d78"/><path d="M190.47 222.67L198.78 225.87L190.56 230.33L182.25 227.12Z" fill="#00ff80" stroke="#00c663"/><path d="M132.56 226.46L140.87 229.67L132.66 239L124.34 235.79Z" fill="#00f386" stroke="#00bd68"/><path d="M231.84 223.37L240.16 226.58L231.94 231.04L223.63 227.83Z" fill="#00ff80" stroke="#00c663"/><path d="M173.94 224.26L182.25 227.12L174.03 231.58L165.72 228.82Z" fill="#00ff80" stroke="#00c663"/><path d="M116.03 232.58L124.34 235.79L116.13 244.31L107.81 241.1Z" fill="#00df90" stroke="#00ad70"/><path d="M215.31 224.62L223.63 227.83L215.41 232.29L207.1 229.08Z" fill="#00ff80" stroke="#00c663"/><path d="M157.4 226.38L165.72 228.82L157.5 233.78L149.19 232.23Z" fill="#00fb82" stroke="#00c365"/><path d="M99.5 237.9L107.81 241.1L99.6 249.62L91.28 246.41Z" fill="#00ca9a" stroke="#009d78"/><path d="M198.78 225.87L207.1 229.08L198.88 233.54L190.56 230.33Z" fill="#00ff80" stroke="#00c663"/><path d="M140.87 229.67L149.19 232.23L140.97 241.75L132.66 239Z" fill="#00f386" stroke="#00bd68"/><path d="M240.16 226.58L248.47 229.79L240.25 234.24L231.94 231.04Z" fill="#00ff80" stroke="#00c663"/><path d="M82.97 243.21L91.28 246.41L83.06 258.99L74.75 255.79Z" fill="#00baa2" stroke="#00917e"/><path d="M182.25 227.12L190.56 230.33L182.35 234.79L174.03 231.58Z" fill="#00ff80" stroke="#00c663"/><path d="M124.34 235.79L132.66 239L124.44 247.52L116.13 244.31Z" fill="#00df90" stroke="#00ad70"/><path d="M223.63 227.83L231.94 231.04L223.72 235.5L215.41 232.29Z" fill="#00ff80" stroke="#00c663"/><path d="M165.72 228.82L174.03 231.58L165.82 236.04L157.5 233.78Z" fill="#00ff80" stroke="#00c663"/><path d="M107.81 241.1L116.13 244.31L107.91 252.83L99.6 249.62Z" fill="#00ca9a" stroke="#009d78"/><path d="M207.1 229.08L215.41 232.29L207.19 236.75L198.88 233.54Z" fill="#00ff80" stroke="#00c663"/><path d="M149.19 232.23L157.5 233.78L149.29 243.77L140.97 241.75Z" fill="#00f784" stroke="#00c066"/><path d="M248.47 229.79L256.79 232.99L248.57 237.45L240.25 234.24Z" fill="#00ff80" stroke="#00c663"/><path d="M91.28 246.41L99.6 249.62L91.38 262.2L83.06 258.99Z" fill="#00baa2" stroke="#00917e"/><path d="M190.56 230.33L198.88 233.54L190.66 238L182.35 234.79Z" fill="#00ff80" stroke="#00c663"/><path d="M132.66 239L140.97 241.75L132.75 251.53L124.44 247.52Z" fill="#00df90" stroke="#00ad70"/><path d="M231.94 231.04L240.25 234.24L232.04 238.7L223.72 235.5Z" fill="#00ff80" stroke="#00c663"/><path d="M74.75 255.79L83.06 258.99L74.85 267.86L66.53 264.65Z" fill="#0096b4" stroke="#00758c"/><path d="M174.03 231.58L182.35 234.79L174.13 239.25L165.82 236.04Z" fill="#00ff80" stroke="#00c663"/><path d="M116.13 244.31L124.44 247.52L116.22 256.04L107.91 252.83Z" fill="#00ca9a" stroke="#009d78"/><path d="M215.41 232.29L223.72 235.5L215.51 239.95L207.19 236.75Z" fill="#00ff80" stroke="#00c663"/><path d="M157.5 233.78L165.82 236.04L157.6 246.3L149.29 243.77Z" fill="#00fb82" stroke="#00c365"/><path d="M256.79 232.99L265.1 236.2L256.88 240.66L248.57 237.45Z" fill="#00ff80" stroke="#00c663"/><path d="M99.6 249.62L107.91 252.83L99.69 265.41L91.38 262.2Z" fill="#00baa2" stroke="#00917e"/><path d="M198.88 233.54L207.19 236.75L198.98 241.2L190.66 238Z" fill="#00ff80" stroke="#00c663"/><path d="M140.97 241.75L149.29 243.77L141.07 256.81L132.75 251.53Z" fill="#00df90" stroke="#00ad70"/><path d="M240.25 234.24L248.57 237.45L240.35 241.91L232.04 238.7Z" fill="#00ff80" stroke="#00c663"/><path d="M83.06 258.99L91.38 262.2L83.16 271.07L74.85 267.86Z" fill="#0096b4" stroke="#00758c"/><path d="M182.35 234.79L190.66 238L182.45 242.46L174.13 239.25Z" fill="#00ff80" stroke="#00c663"/><path d="M124.44 247.52L132.75 251.53L124.54 261.31L116.22 256.04Z" fill="#00ca9a" stroke="#009d78"/><path d="M223.72 235.5L232.04 238.7L223.82 243.16L215.51 239.95Z" fill="#00ff80" stroke="#00c663"/><path d="M66.53 264.65L74.85 267.86L66.63 279.25L58.32 270.73Z" fill="#0082be" stroke="#006594"/><path d="M165.82 236.04L174.13 239.25L165.91 249.51L157.6 246.3Z" fill="#00ff80" stroke="#00c663"/><path d="M107.91 252.83L116.22 256.04L108.01 268.61L99.69 265.41Z" fill="#00baa2" stroke="#00917e"/><path d="M207.19 236.75L215.51 239.95L207.29 244.41L198.98 241.2Z" fill="#00ff80" stroke="#00c663"/><path d="M149.29 243.77L157.6 246.3L149.38 261.2L141.07 256.81Z" fill="#00e38e" stroke="#00b16e"/><path d="M248.57 237.45L256.88 240.66L248.67 245.12L240.35 241.91Z" fill="#00ff80" stroke="#00c663"/><path d="M91.38 262.2L99.69 265.41L91.48 274.27L83.16 271.07Z" fill="#0096b4" stroke="#00758c"/><path d="M190.66 238L198.98 241.2L190.76 245.66L182.45 242.46Z" fill="#00ff80" stroke="#00c663"/><path d="M132.75 251.53L141.07 256.81L132.85 269.85L124.54 261.31Z" fill="#00c69c" stroke="#009a79"/><path d="M232.04 238.7L240.35 241.91L232.14 246.37L223.82 243.16Z" fill="#00ff80" stroke="#00c663"/><path d="M74.85 267.86L83.16 271.07L74.95 288.57L66.63 279.25Z" fill="#0082be" stroke="#006594"/><path d="M174.13 239.25L182.45 242.46L174.23 252.71L165.91 249.51Z" fill="#00ff80" stroke="#00c663"/><path d="M116.22 256.04L124.54 261.31L116.32 274.35L108.01 268.61Z" fill="#00baa2" stroke="#00917e"/><path d="M215.51 239.95L223.82 243.16L215.6 247.62L207.29 244.41Z" fill="#00ff80" stroke="#00c663"/><path d="M58.32 270.73L66.63 279.25L58.41 284.54L50.1 273.8Z" fill="#0079c2" stroke="#005e97"/><path d="M157.6 246.3L165.91 249.51L157.7 264.41L149.38 261.2Z" fill="#00e78c" stroke="#00b46d"/><path d="M99.69 265.41L108.01 268.61L99.79 277.48L91.48 274.27Z" fill="#0096b4" stroke="#00758c"/><path d="M198.98 241.2L207.29 244.41L199.07 248.87L190.76 245.66Z" fill="#00ff80" stroke="#00c663"/><path d="M141.07 256.81L149.38 261.2L141.17 276.1L132.85 269.85Z" fill="#00bea0" stroke="#00947c"/><path d="M240.35 241.91L248.67 245.12L240.45 249.57L232.14 246.37Z" fill="#00ff80" stroke="#00c663"/><path d="M83.16 271.07L91.48 274.27L83.26 297.9L74.95 288.57Z" fill="#0082be" stroke="#006594"/><path d="M182.45 242.46L190.76 245.66L182.54 255.92L174.23 252.71Z" fill="#00ff80" stroke="#00c663"/><path d="M124.54 261.31L132.85 269.85L124.64 284.07L116.32 274.35Z" fill="#00aea8" stroke="#008783"/><path d="M223.82 243.16L232.14 246.37L223.92 250.83L215.6 247.62Z" fill="#00ff80" stroke="#00c663"/><path d="M66.63 279.25L74.95 288.57L66.73 295.28L58.41 284.54Z" fill="#0061ce" stroke="#004ba0"/><path d="M165.91 249.51L174.23 252.71L166.01 267.61L157.7 264.41Z" fill="#00e78c" stroke="#00b46d"/><path d="M108.01 268.61L116.32 274.35L108.1 284.41L99.79 277.48Z" fill="#0096b4" stroke="#00758c"/><path d="M207.29 244.41L215.6 247.62L207.39 252.08L199.07 248.87Z" fill="#00ff80" stroke="#00c663"/><path d="M149.38 261.2L157.7 264.41L149.48 279.3L141.17 276.1Z" fill="#00baa2" stroke="#00917e"/><path d="M91.48 274.27L99.79 277.48L91.57 307.22L83.26 297.9Z" fill="#0082be" stroke="#006594"/><path d="M190.76 245.66L199.07 248.87L190.86 259.13L182.54 255.92Z" fill="#00ff80" stroke="#00c663"/><path d="M132.85 269.85L141.17 276.1L132.95 291L124.64 284.07Z" fill="#0096b4" stroke="#00758c"/><path d="M232.14 246.37L240.45 249.57L232.23 254.03L223.92 250.83Z" fill="#00ff80" stroke="#00c663"/><path d="M74.95 288.57L83.26 297.9L75.04 306.02L66.73 295.28Z" fill="#0045dd" stroke="#0035ac"/><path d="M174.23 252.71L182.54 255.92L174.33 270.82L166.01 267.61Z" fill="#00e78c" stroke="#00b46d"/><path d="M116.32 274.35L124.64 284.07L116.42 297.21L108.1 284.41Z" fill="#008aba" stroke="#006b91"/><path d="M215.6 247.62L223.92 250.83L215.7 255.28L207.39 252.08Z" fill="#00ff80" stroke="#00c663"/><path d="M157.7 264.41L166.01 267.61L157.8 282.51L149.48 279.3Z" fill="#00baa2" stroke="#00917e"/><path d="M99.79 277.48L108.1 284.41L99.89 313.8L91.57 307.22Z" fill="#0082be" stroke="#006594"/><path d="M199.07 248.87L207.39 252.08L199.17 262.34L190.86 259.13Z" fill="#00ff80" stroke="#00c663"/><path d="M141.17 276.1L149.48 279.3L141.26 294.2L132.95 291Z" fill="#008aba" stroke="#006b91"/><path d="M83.26 297.9L91.57 307.22L83.36 315.63L75.04 306.02Z" fill="#002de9" stroke="#0023b5"/><path d="M182.54 255.92L190.86 259.13L182.64 274.03L174.33 270.82Z" fill="#00e78c" stroke="#00b46d"/><path d="M124.64 284.07L132.95 291L124.73 305.89L116.42 297.21Z" fill="#006dc8" stroke="#00559c"/><path d="M223.92 250.83L232.23 254.03L224.02 258.49L215.7 255.28Z" fill="#00ff80" stroke="#00c663"/><path d="M166.01 267.61L174.33 270.82L166.11 285.72L157.8 282.51Z" fill="#00baa2" stroke="#00917e"/><path d="M108.1 284.41L116.42 297.21L108.2 317L99.89 313.8Z" fill="#0071c6" stroke="#00589a"/><path d="M207.39 252.08L215.7 255.28L207.49 265.54L199.17 262.34Z" fill="#00ff80" stroke="#00c663"/><path d="M149.48 279.3L157.8 282.51L149.58 297.41L141.26 294.2Z" fill="#008aba" stroke="#006b91"/><path d="M91.57 307.22L99.89 313.8L91.67 318.84L83.36 315.63Z" fill="#0010f7" stroke="#000cc0"/><path d="M190.86 259.13L199.17 262.34L190.95 277.23L182.64 274.03Z" fill="#00e78c" stroke="#00b46d"/><path d="M132.95 291L141.26 294.2L133.05 309.1L124.73 305.89Z" fill="#005dd0" stroke="#0048a2"/><path d="M174.33 270.82L182.64 274.03L174.42 288.93L166.11 285.72Z" fill="#00baa2" stroke="#00917e"/><path d="M116.42 297.21L124.73 305.89L116.52 320.21L108.2 317Z" fill="#0045dd" stroke="#0035ac"/><path d="M215.7 255.28L224.02 258.49L215.8 262.95L207.49 265.54Z" fill="#00ff80" stroke="#00c663"/><path d="M157.8 282.51L166.11 285.72L157.89 300.62L149.58 297.41Z" fill="#008aba" stroke="#006b91"/><path d="M99.89 313.8L108.2 317L99.99 322.04L91.67 318.84Z" fill="#0000ff" stroke="#0000c6"/><path d="M199.17 262.34L207.49 265.54L199.27 280.44L190.95 277.23Z" fill="#00e78c" stroke="#00b46d"/><path d="M141.26 294.2L149.58 297.41L141.36 312.31L133.05 309.1Z" fill="#005dd0" stroke="#0048a2"/><path d="M182.64 274.03L190.95 277.23L182.74 292.13L174.42 288.93Z" fill="#00baa2" stroke="#00917e"/><path d="M124.73 305.89L133.05 309.1L124.83 323.42L116.52 320.21Z" fill="#002de9" stroke="#0023b5"/><path d="M166.11 285.72L174.42 288.93L166.21 303.82L157.89 300.62Z" fill="#008aba" stroke="#006b91"/><path d="M108.2 317L116.52 320.21L108.3 325.25L99.99 322.04Z" fill="#0000ff" stroke="#0000c6"/><path d="M207.49 265.54L215.8 262.95L207.58 267.41L199.27 280.44Z" fill="#00e78c" stroke="#00b46d"/><path d="M149.58 297.41L157.89 300.62L149.68 315.51L141.36 312.31Z" fill="#005dd0" stroke="#0048a2"/><path d="M190.95 277.23L199.27 280.44L191.05 295.34L182.74 292.13Z" fill="#00baa2" stroke="#00917e"/><path d="M133.05 309.1L141.36 312.31L133.15 326.63L124.83 323.42Z" fill="#002de9" stroke="#0023b5"/><path d="M174.42 288.93L182.74 292.13L174.52 307.03L166.21 303.82Z" fill="#008aba" stroke="#006b91"/><path d="M116.52 320.21L124.83 323.42L116.61 328.46L108.3 325.25Z" fill="#0000ff" stroke="#0000c6"/><path d="M157.89 300.62L166.21 303.82L157.99 318.72L149.68 315.51Z" fill="#005dd0" stroke="#0048a2"/><path d="M199.27 280.44L207.58 267.41L199.37 329.87L191.05 295.34Z" fill="#00baa2" stroke="#00917e"/><path d="M141.36 312.31L149.68 315.51L141.46 329.83L133.15 326.63Z" fill="#002de9" stroke="#0023b5"/><path d="M182.74 292.13L191.05 295.34L182.84 310.24L174.52 307.03Z" fill="#008aba" stroke="#006b91"/><path d="M124.83 323.42L133.15 326.63L124.93 331.66L116.61 328.46Z" fill="#0000ff" stroke="#0000c6"/><path d="M166.21 303.82L174.52 307.03L166.3 321.93L157.99 318.72Z" fill="#005dd0" stroke="#0048a2"/><path d="M149.68 315.51L157.99 318.72L149.77 333.04L141.46 329.83Z" fill="#002de9" stroke="#0023b5"/><path d="M191.05 295.34L199.37 329.87L191.15 334.32L182.84 310.24Z" fill="#008aba" stroke="#006b91"/><path d="M133.15 326.63L141.46 329.83L133.24 334.87L124.93 331.66Z" fill="#0000ff" stroke="#0000c6"/><path d="M174.52 307.03L182.84 310.24L174.62 325.14L166.3 321.93Z" fill="#005dd0" stroke="#0048a2"/><path d="M157.99 318.72L166.3 321.93L158.09 336.25L149.77 333.04Z" fill="#002de9" stroke="#0023b5"/><path d="M141.46 329.83L149.77 333.04L141.56 338.08L133.24 334.87Z" fill="#0000ff" stroke="#0000c6"/><path d="M182.84 310.24L191.15 334.32L182.93 338.78L174.62 325.14Z" fill="#005dd0" stroke="#0048a2"/><path d="M166.3 321.93L174.62 325.14L166.4 339.45L158.09 336.25Z" fill="#002de9" stroke="#0023b5"/><path d="M149.77 333.04L158.09 336.25L149.87 341.29L141.56 338.08Z" fill="#0000ff" stroke="#0000c6"/><path d="M174.62 325.14L182.93 338.78L174.72 343.24L166.4 339.45Z" fill="#002de9" stroke="#0023b5"/><path d="M158.09 336.25L166.4 339.45L158.19 344.49L149.87 341.29Z" fill="#0000ff" stroke="#0000c6"/><path d="M166.4 339.45L174.72 343.24L166.5 347.7L158.19 344.49Z" fill="#0000ff" stroke="#0000c6"/></g>
<g font-family="Liberation Serif, serif" font-size="7.6" fill="#3a3a3a"><text x="44.9" y="303.4" text-anchor="end">0</text><text x="44.9" y="291.8" text-anchor="end">100</text><text x="44.9" y="280.2" text-anchor="end">200</text><text x="44.9" y="268.6" text-anchor="end">300</text><text x="44.9" y="257" text-anchor="end">400</text><text x="44.9" y="245.4" text-anchor="end">500</text><text x="45.5" y="311.6" text-anchor="end">−1</text><text x="74.6" y="322.83" text-anchor="end">−0.5</text><text x="103.7" y="334.05" text-anchor="end">0</text><text x="132.8" y="345.28" text-anchor="end">0.5</text><text x="161.9" y="356.5" text-anchor="end">1</text><text x="270.7" y="302.4">0</text><text x="229.62" y="324.69">0.5</text><text x="188.53" y="346.98">1</text></g>
<g font-family="Liberation Sans, Arial, sans-serif" fill="#262626"><text transform="translate(30.1 274.1) rotate(-90)" font-size="8.8" font-style="italic" text-anchor="middle">InfusionRate</text><text transform="translate(85.4 350.1) rotate(21.09)" font-size="9.02" text-anchor="middle">(d/dt)PerformanceError</text><text transform="translate(247.2 337.6) rotate(-29.78)" font-size="8.8" text-anchor="middle">PerformanceError</text></g>
<g stroke="#dedede" stroke-width="0.5" fill="none">
<line x1="321.4" y1="303.1" x2="420" y2="249.6"/>
<line x1="420" y1="249.6" x2="536.4" y2="294.5"/>
<line x1="321.4" y1="291.5" x2="420" y2="238"/>
<line x1="420" y1="238" x2="536.4" y2="282.9"/>
<line x1="321.4" y1="279.9" x2="420" y2="226.4"/>
<line x1="420" y1="226.4" x2="536.4" y2="271.3"/>
<line x1="321.4" y1="268.3" x2="420" y2="214.8"/>
<line x1="420" y1="214.8" x2="536.4" y2="259.7"/>
<line x1="321.4" y1="256.7" x2="420" y2="203.2"/>
<line x1="420" y1="203.2" x2="536.4" y2="248.1"/>
<line x1="321.4" y1="245.1" x2="420" y2="191.6"/>
<line x1="420" y1="191.6" x2="536.4" y2="236.5"/>
<line x1="420" y1="249.6" x2="420" y2="191.6"/>
<line x1="420" y1="249.6" x2="321.4" y2="303.1"/>
<line x1="449.1" y1="260.83" x2="449.1" y2="202.83"/>
<line x1="449.1" y1="260.83" x2="350.5" y2="314.33"/>
<line x1="478.2" y1="272.05" x2="478.2" y2="214.05"/>
<line x1="478.2" y1="272.05" x2="379.6" y2="325.55"/>
<line x1="507.3" y1="283.28" x2="507.3" y2="225.28"/>
<line x1="507.3" y1="283.28" x2="408.7" y2="336.78"/>
<line x1="536.4" y1="294.5" x2="536.4" y2="236.5"/>
<line x1="536.4" y1="294.5" x2="437.8" y2="348"/>
<line x1="420" y1="249.6" x2="420" y2="191.6"/>
<line x1="420" y1="249.6" x2="536.4" y2="294.5"/>
<line x1="378.92" y1="271.89" x2="378.92" y2="213.89"/>
<line x1="378.92" y1="271.89" x2="495.32" y2="316.79"/>
<line x1="337.83" y1="294.18" x2="337.83" y2="236.18"/>
<line x1="337.83" y1="294.18" x2="454.23" y2="339.08"/>
</g>
<g stroke="#4d4d4d" stroke-width="0.6" fill="none"><line x1="321.4" y1="303.1" x2="321.4" y2="245.1"/><line x1="321.4" y1="303.1" x2="437.8" y2="348"/><line x1="437.8" y1="348" x2="536.4" y2="294.5"/><line x1="321.4" y1="303.1" x2="318.97" y2="302.16"/><line x1="321.4" y1="291.5" x2="318.97" y2="290.56"/><line x1="321.4" y1="279.9" x2="318.97" y2="278.96"/><line x1="321.4" y1="268.3" x2="318.97" y2="267.36"/><line x1="321.4" y1="256.7" x2="318.97" y2="255.76"/><line x1="321.4" y1="245.1" x2="318.97" y2="244.16"/><line x1="321.4" y1="303.1" x2="319.11" y2="304.34"/><line x1="350.5" y1="314.33" x2="348.21" y2="315.56"/><line x1="379.6" y1="325.55" x2="377.31" y2="326.79"/><line x1="408.7" y1="336.78" x2="406.41" y2="338.01"/><line x1="437.8" y1="348" x2="435.51" y2="349.24"/><line x1="536.4" y1="294.5" x2="538.83" y2="295.44"/><line x1="495.32" y1="316.79" x2="497.74" y2="317.73"/><line x1="454.23" y1="339.08" x2="456.66" y2="340.02"/></g>
<g stroke-width="0.5" stroke-linejoin="round"><path d="M420 192.18L428.31 195.35L420.1 200.05L411.78 196.93Z" fill="#00ff80" stroke="#00c663"/><path d="M428.31 195.35L436.63 198.51L428.41 203.17L420.1 200.05Z" fill="#00ff80" stroke="#00c663"/><path d="M411.78 196.93L420.1 200.05L411.88 204.75L403.57 201.68Z" fill="#00ff80" stroke="#00c663"/><path d="M436.63 198.51L444.94 201.68L436.73 206.29L428.41 203.17Z" fill="#00ff80" stroke="#00c663"/><path d="M420.1 200.05L428.41 203.17L420.2 207.83L411.88 204.75Z" fill="#00ff80" stroke="#00c663"/><path d="M403.57 201.68L411.88 204.75L403.66 211.4L395.35 208.46Z" fill="#00fb82" stroke="#00c365"/><path d="M444.94 201.68L453.26 204.84L445.04 209.41L436.73 206.29Z" fill="#00ff80" stroke="#00c663"/><path d="M428.41 203.17L436.73 206.29L428.51 210.9L420.2 207.83Z" fill="#00ff80" stroke="#00c663"/><path d="M411.88 204.75L420.2 207.83L411.98 214.34L403.66 211.4Z" fill="#00fb82" stroke="#00c365"/><path d="M453.26 204.84L461.57 208.01L453.35 212.53L445.04 209.41Z" fill="#00ff80" stroke="#00c663"/><path d="M395.35 208.46L403.66 211.4L395.45 219.19L387.13 216.39Z" fill="#00f386" stroke="#00bd68"/><path d="M436.73 206.29L445.04 209.41L436.82 213.97L428.51 210.9Z" fill="#00ff80" stroke="#00c663"/><path d="M420.2 207.83L428.51 210.9L420.29 217.28L411.98 214.34Z" fill="#00ff80" stroke="#00c663"/><path d="M461.57 208.01L469.89 211.17L461.67 215.65L453.35 212.53Z" fill="#00ff80" stroke="#00c663"/><path d="M403.66 211.4L411.98 214.34L403.76 221.98L395.45 219.19Z" fill="#00f386" stroke="#00bd68"/><path d="M445.04 209.41L453.35 212.53L445.14 217.05L436.82 213.97Z" fill="#00ff80" stroke="#00c663"/><path d="M387.13 216.39L395.45 219.19L387.23 229.07L378.92 226.07Z" fill="#00e38e" stroke="#00b16e"/><path d="M428.51 210.9L436.82 213.97L428.61 220.16L420.29 217.28Z" fill="#00ff80" stroke="#00c663"/><path d="M469.89 211.17L478.2 214.34L469.98 218.77L461.67 215.65Z" fill="#00ff80" stroke="#00c663"/><path d="M411.98 214.34L420.29 217.28L412.08 225.44L403.76 221.98Z" fill="#00f386" stroke="#00bd68"/><path d="M453.35 212.53L461.67 215.65L453.45 220.12L445.14 217.05Z" fill="#00ff80" stroke="#00c663"/><path d="M395.45 219.19L403.76 221.98L395.55 232.07L387.23 229.07Z" fill="#00e38e" stroke="#00b16e"/><path d="M436.82 213.97L445.14 217.05L436.92 222.97L428.61 220.16Z" fill="#00ff80" stroke="#00c663"/><path d="M378.92 226.07L387.23 229.07L379.01 235.57L370.7 232.73Z" fill="#00ca9a" stroke="#009d78"/><path d="M478.2 214.34L486.51 217.51L478.3 221.94L469.98 218.77Z" fill="#00ff80" stroke="#00c663"/><path d="M420.29 217.28L428.61 220.16L420.39 231.61L412.08 225.44Z" fill="#00f784" stroke="#00c066"/><path d="M461.67 215.65L469.98 218.77L461.77 223.2L453.45 220.12Z" fill="#00ff80" stroke="#00c663"/><path d="M403.76 221.98L412.08 225.44L403.86 237.06L395.55 232.07Z" fill="#00e78c" stroke="#00b46d"/><path d="M445.14 217.05L453.45 220.12L445.24 225.78L436.92 222.97Z" fill="#00ff80" stroke="#00c663"/><path d="M387.23 229.07L395.55 232.07L387.33 238.4L379.01 235.57Z" fill="#00ca9a" stroke="#009d78"/><path d="M486.51 217.51L494.83 220.67L486.61 225.11L478.3 221.94Z" fill="#00ff80" stroke="#00c663"/><path d="M428.61 220.16L436.92 222.97L428.7 241.73L420.39 231.61Z" fill="#00f784" stroke="#00c066"/><path d="M370.7 232.73L379.01 235.57L370.8 240.25L362.48 237.54Z" fill="#00c29e" stroke="#00977b"/><path d="M469.98 218.77L478.3 221.94L470.08 226.37L461.77 223.2Z" fill="#00ff80" stroke="#00c663"/><path d="M412.08 225.44L420.39 231.61L412.17 250.02L403.86 237.06Z" fill="#00e38e" stroke="#00b16e"/><path d="M453.45 220.12L461.77 223.2L453.55 228.59L445.24 225.78Z" fill="#00ff80" stroke="#00c663"/><path d="M395.55 232.07L403.86 237.06L395.64 243.36L387.33 238.4Z" fill="#00ce98" stroke="#00a076"/><path d="M494.83 220.67L503.14 223.84L494.93 228.28L486.61 225.11Z" fill="#00ff80" stroke="#00c663"/><path d="M436.92 222.97L445.24 225.78L437.02 245.5L428.7 241.73Z" fill="#00f784" stroke="#00c066"/><path d="M379.01 235.57L387.33 238.4L379.11 242.96L370.8 240.25Z" fill="#00c29e" stroke="#00977b"/><path d="M478.3 221.94L486.61 225.11L478.4 229.55L470.08 226.37Z" fill="#00ff80" stroke="#00c663"/><path d="M420.39 231.61L428.7 241.73L420.49 263L412.17 250.02Z" fill="#00d794" stroke="#00a773"/><path d="M362.48 237.54L370.8 240.25L362.58 243.05L354.27 239.1Z" fill="#00bea0" stroke="#00947c"/><path d="M461.77 223.2L470.08 226.37L461.86 231.79L453.55 228.59Z" fill="#00ff80" stroke="#00c663"/><path d="M403.86 237.06L412.17 250.02L403.96 256.78L395.64 243.36Z" fill="#00c69c" stroke="#009a79"/><path d="M503.14 223.84L511.46 227L503.24 231.45L494.93 228.28Z" fill="#00ff80" stroke="#00c663"/><path d="M445.24 225.78L453.55 228.59L445.33 249.28L437.02 245.5Z" fill="#00fb82" stroke="#00c365"/><path d="M387.33 238.4L395.64 243.36L387.43 247.43L379.11 242.96Z" fill="#00c29e" stroke="#00977b"/><path d="M486.61 225.11L494.93 228.28L486.71 232.72L478.4 229.55Z" fill="#00ff80" stroke="#00c663"/><path d="M428.7 241.73L437.02 245.5L428.8 266.78L420.49 263Z" fill="#00baa2" stroke="#00917e"/><path d="M370.8 240.25L379.11 242.96L370.9 247L362.58 243.05Z" fill="#00c29e" stroke="#00977b"/><path d="M470.08 226.37L478.4 229.55L470.18 235L461.86 231.79Z" fill="#00ff80" stroke="#00c663"/><path d="M412.17 250.02L420.49 263L412.27 268.03L403.96 256.78Z" fill="#009ab2" stroke="#00788a"/><path d="M511.46 227L519.77 230.17L511.55 234.62L503.24 231.45Z" fill="#00ff80" stroke="#00c663"/><path d="M354.27 239.1L362.58 243.05L354.36 256.64L346.05 252.37Z" fill="#00ca9a" stroke="#009d78"/><path d="M453.55 228.59L461.86 231.79L453.65 252.49L445.33 249.28Z" fill="#00fb82" stroke="#00c365"/><path d="M395.64 243.36L403.96 256.78L395.74 258.91L387.43 247.43Z" fill="#00bea0" stroke="#00947c"/><path d="M494.93 228.28L503.24 231.45L495.02 235.89L486.71 232.72Z" fill="#00ff80" stroke="#00c663"/><path d="M437.02 245.5L445.33 249.28L437.12 270.56L428.8 266.78Z" fill="#00b6a4" stroke="#008d7f"/><path d="M379.11 242.96L387.43 247.43L379.21 253.34L370.9 247Z" fill="#00c29e" stroke="#00977b"/><path d="M478.4 229.55L486.71 232.72L478.49 238.21L470.18 235Z" fill="#00ff80" stroke="#00c663"/><path d="M420.49 263L428.8 266.78L420.59 271.53L412.27 268.03Z" fill="#006dc8" stroke="#00559c"/><path d="M519.77 230.17L528.09 233.33L519.87 237.79L511.55 234.62Z" fill="#00ff80" stroke="#00c663"/><path d="M362.58 243.05L370.9 247L362.68 260.91L354.36 256.64Z" fill="#00ca9a" stroke="#009d78"/><path d="M461.86 231.79L470.18 235L461.96 255.7L453.65 252.49Z" fill="#00fb82" stroke="#00c365"/><path d="M403.96 256.78L412.27 268.03L404.05 269.01L395.74 258.91Z" fill="#008eb8" stroke="#006e8f"/><path d="M503.24 231.45L511.55 234.62L503.34 239.07L495.02 235.89Z" fill="#00ff80" stroke="#00c663"/><path d="M346.05 252.37L354.36 256.64L346.15 266.9L337.83 261.7Z" fill="#00a6ac" stroke="#008186"/><path d="M445.33 249.28L453.65 252.49L445.43 273.77L437.12 270.56Z" fill="#00b2a6" stroke="#008a81"/><path d="M387.43 247.43L395.74 258.91L387.52 269.24L379.21 253.34Z" fill="#00bea0" stroke="#00947c"/><path d="M486.71 232.72L495.02 235.89L486.81 241.41L478.49 238.21Z" fill="#00ff80" stroke="#00c663"/><path d="M428.8 266.78L437.12 270.56L428.9 275.02L420.59 271.53Z" fill="#0069ca" stroke="#00519d"/><path d="M528.09 233.33L536.4 236.5L528.18 240.96L519.87 237.79Z" fill="#00ff80" stroke="#00c663"/><path d="M370.9 247L379.21 253.34L370.99 265.18L362.68 260.91Z" fill="#00c69c" stroke="#009a79"/><path d="M470.18 235L478.49 238.21L470.28 258.9L461.96 255.7Z" fill="#00fb82" stroke="#00c365"/><path d="M412.27 268.03L420.59 271.53L412.37 272.51L404.05 269.01Z" fill="#0069ca" stroke="#00519d"/><path d="M511.55 234.62L519.87 237.79L511.65 242.24L503.34 239.07Z" fill="#00ff80" stroke="#00c663"/><path d="M354.36 256.64L362.68 260.91L354.46 272.09L346.15 266.9Z" fill="#00a2ae" stroke="#007e87"/><path d="M453.65 252.49L461.96 255.7L453.75 276.98L445.43 273.77Z" fill="#00b2a6" stroke="#008a81"/><path d="M395.74 258.91L404.05 269.01L395.84 286.27L387.52 269.24Z" fill="#009ab2" stroke="#00788a"/><path d="M495.02 235.89L503.34 239.07L495.12 244.62L486.81 241.41Z" fill="#00ff80" stroke="#00c663"/><path d="M337.83 261.7L346.15 266.9L337.93 278.48L329.62 269.06Z" fill="#008eb8" stroke="#006e8f"/><path d="M437.12 270.56L445.43 273.77L437.21 278.23L428.9 275.02Z" fill="#0069ca" stroke="#00519d"/><path d="M379.21 253.34L387.52 269.24L379.31 273.55L370.99 265.18Z" fill="#00b6a4" stroke="#008d7f"/><path d="M478.49 238.21L486.81 241.41L478.59 262.11L470.28 258.9Z" fill="#00fb82" stroke="#00c365"/><path d="M420.59 271.53L428.9 275.02L420.68 276L412.37 272.51Z" fill="#0069ca" stroke="#00519d"/><path d="M519.87 237.79L528.18 240.96L519.97 245.42L511.65 242.24Z" fill="#00ff80" stroke="#00c663"/><path d="M362.68 260.91L370.99 265.18L362.78 277.29L354.46 272.09Z" fill="#009ab2" stroke="#00788a"/><path d="M461.96 255.7L470.28 258.9L462.06 280.18L453.75 276.98Z" fill="#00b2a6" stroke="#008a81"/><path d="M404.05 269.01L412.37 272.51L404.15 291.2L395.84 286.27Z" fill="#0079c2" stroke="#005e97"/><path d="M503.34 239.07L511.65 242.24L503.44 247.83L495.12 244.62Z" fill="#00ff80" stroke="#00c663"/><path d="M346.15 266.9L354.46 272.09L346.25 287.9L337.93 278.48Z" fill="#0086bc" stroke="#006892"/><path d="M445.43 273.77L453.75 276.98L445.53 281.43L437.21 278.23Z" fill="#0069ca" stroke="#00519d"/><path d="M387.52 269.24L395.84 286.27L387.62 286.04L379.31 273.55Z" fill="#007dc0" stroke="#006195"/><path d="M486.81 241.41L495.12 244.62L486.9 265.32L478.59 262.11Z" fill="#00fb82" stroke="#00c365"/><path d="M329.62 269.06L337.93 278.48L329.71 284.84L321.4 274.1Z" fill="#0082be" stroke="#006594"/><path d="M428.9 275.02L437.21 278.23L429 279.21L420.68 276Z" fill="#0069ca" stroke="#00519d"/><path d="M370.99 265.18L379.31 273.55L371.09 285.8L362.78 277.29Z" fill="#0096b4" stroke="#00758c"/><path d="M470.28 258.9L478.59 262.11L470.37 283.39L462.06 280.18Z" fill="#00b2a6" stroke="#008a81"/><path d="M412.37 272.51L420.68 276L412.47 296.12L404.15 291.2Z" fill="#0079c2" stroke="#005e97"/><path d="M511.65 242.24L519.97 245.42L511.75 251.03L503.44 247.83Z" fill="#00ff80" stroke="#00c663"/><path d="M354.46 272.09L362.78 277.29L354.56 297.33L346.25 287.9Z" fill="#007dc0" stroke="#006195"/><path d="M453.75 276.98L462.06 280.18L453.84 284.64L445.53 281.43Z" fill="#0069ca" stroke="#00519d"/><path d="M395.84 286.27L404.15 291.2L395.94 294.05L387.62 286.04Z" fill="#0041df" stroke="#0032ad"/><path d="M495.12 244.62L503.44 247.83L495.22 268.53L486.9 265.32Z" fill="#00fb82" stroke="#00c365"/><path d="M337.93 278.48L346.25 287.9L338.03 295.58L329.71 284.84Z" fill="#0065cc" stroke="#004e9f"/><path d="M437.21 278.23L445.53 281.43L437.31 282.41L429 279.21Z" fill="#0069ca" stroke="#00519d"/><path d="M379.31 273.55L387.62 286.04L379.4 297.62L371.09 285.8Z" fill="#0082be" stroke="#006594"/><path d="M478.59 262.11L486.9 265.32L478.69 286.6L470.37 283.39Z" fill="#00b2a6" stroke="#008a81"/><path d="M420.68 276L429 279.21L420.78 300.15L412.47 296.12Z" fill="#0079c2" stroke="#005e97"/><path d="M362.78 277.29L371.09 285.8L362.87 306.75L354.56 297.33Z" fill="#0075c4" stroke="#005b98"/><path d="M462.06 280.18L470.37 283.39L462.16 287.85L453.84 284.64Z" fill="#0069ca" stroke="#00519d"/><path d="M404.15 291.2L412.47 296.12L404.25 300.57L395.94 294.05Z" fill="#0039e3" stroke="#002cb1"/><path d="M503.44 247.83L511.75 251.03L503.53 271.73L495.22 268.53Z" fill="#00fb82" stroke="#00c365"/><path d="M346.25 287.9L354.56 297.33L346.34 306.32L338.03 295.58Z" fill="#0049db" stroke="#0038aa"/><path d="M445.53 281.43L453.84 284.64L445.63 285.62L437.31 282.41Z" fill="#0069ca" stroke="#00519d"/><path d="M387.62 286.04L395.94 294.05L387.72 304.94L379.4 297.62Z" fill="#0055d4" stroke="#0042a5"/><path d="M486.9 265.32L495.22 268.53L487 289.8L478.69 286.6Z" fill="#00b2a6" stroke="#008a81"/><path d="M429 279.21L437.31 282.41L429.1 304.19L420.78 300.15Z" fill="#0079c2" stroke="#005e97"/><path d="M371.09 285.8L379.4 297.62L371.19 312.19L362.87 306.75Z" fill="#005dd0" stroke="#0048a2"/><path d="M470.37 283.39L478.69 286.6L470.47 291.06L462.16 287.85Z" fill="#0069ca" stroke="#00519d"/><path d="M412.47 296.12L420.78 300.15L412.56 305.44L404.25 300.57Z" fill="#0031e7" stroke="#0026b4"/><path d="M354.56 297.33L362.87 306.75L354.66 315.93L346.34 306.32Z" fill="#0031e7" stroke="#0026b4"/><path d="M453.84 284.64L462.16 287.85L453.94 288.83L445.63 285.62Z" fill="#0069ca" stroke="#00519d"/><path d="M395.94 294.05L404.25 300.57L396.03 310.75L387.72 304.94Z" fill="#0041df" stroke="#0032ad"/><path d="M495.22 268.53L503.53 271.73L495.32 293.01L487 289.8Z" fill="#00b2a6" stroke="#008a81"/><path d="M437.31 282.41L445.63 285.62L437.41 308.35L429.1 304.19Z" fill="#0079c2" stroke="#005e97"/><path d="M379.4 297.62L387.72 304.94L379.5 316.64L371.19 312.19Z" fill="#0035e5" stroke="#0029b2"/><path d="M478.69 286.6L487 289.8L478.79 294.26L470.47 291.06Z" fill="#0069ca" stroke="#00519d"/><path d="M420.78 300.15L429.1 304.19L420.88 310.3L412.56 305.44Z" fill="#002de9" stroke="#0023b5"/><path d="M362.87 306.75L371.19 312.19L362.97 319.14L354.66 315.93Z" fill="#0014f5" stroke="#000fbf"/><path d="M462.16 287.85L470.47 291.06L462.25 292.03L453.94 288.83Z" fill="#0069ca" stroke="#00519d"/><path d="M404.25 300.57L412.56 305.44L404.35 316.15L396.03 310.75Z" fill="#0031e7" stroke="#0026b4"/><path d="M445.63 285.62L453.94 288.83L445.72 312.99L437.41 308.35Z" fill="#0079c2" stroke="#005e97"/><path d="M387.72 304.94L396.03 310.75L387.82 321.09L379.5 316.64Z" fill="#0024ed" stroke="#001cb8"/><path d="M487 289.8L495.32 293.01L487.1 297.47L478.79 294.26Z" fill="#0069ca" stroke="#00519d"/><path d="M429.1 304.19L437.41 308.35L429.19 315.22L420.88 310.3Z" fill="#0028eb" stroke="#001fb7"/><path d="M371.19 312.19L379.5 316.64L371.29 322.34L362.97 319.14Z" fill="#0008fb" stroke="#0006c3"/><path d="M470.47 291.06L478.79 294.26L470.57 295.24L462.25 292.03Z" fill="#0069ca" stroke="#00519d"/><path d="M412.56 305.44L420.88 310.3L412.66 320.6L404.35 316.15Z" fill="#0028eb" stroke="#001fb7"/><path d="M453.94 288.83L462.25 292.03L454.04 317.64L445.72 312.99Z" fill="#0079c2" stroke="#005e97"/><path d="M396.03 310.75L404.35 316.15L396.13 324.3L387.82 321.09Z" fill="#0018f3" stroke="#0012bd"/><path d="M437.41 308.35L445.72 312.99L437.51 320.32L429.19 315.22Z" fill="#0024ed" stroke="#001cb8"/><path d="M379.5 316.64L387.82 321.09L379.6 325.55L371.29 322.34Z" fill="#0004fd" stroke="#0003c5"/><path d="M478.79 294.26L487.1 297.47L478.88 298.45L470.57 295.24Z" fill="#0069ca" stroke="#00519d"/><path d="M420.88 310.3L429.19 315.22L420.98 325.05L412.66 320.6Z" fill="#0024ed" stroke="#001cb8"/><path d="M462.25 292.03L470.57 295.24L462.35 322.29L454.04 317.64Z" fill="#0079c2" stroke="#005e97"/><path d="M404.35 316.15L412.66 320.6L404.45 327.51L396.13 324.3Z" fill="#0010f7" stroke="#000cc0"/><path d="M445.72 312.99L454.04 317.64L445.82 325.42L437.51 320.32Z" fill="#0020ef" stroke="#0018ba"/><path d="M387.82 321.09L396.13 324.3L387.91 328.76L379.6 325.55Z" fill="#0000ff" stroke="#0000c6"/><path d="M429.19 315.22L437.51 320.32L429.29 328.96L420.98 325.05Z" fill="#001cf1" stroke="#0015bb"/><path d="M470.57 295.24L478.88 298.45L470.67 330.17L462.35 322.29Z" fill="#0079c2" stroke="#005e97"/><path d="M412.66 320.6L420.98 325.05L412.76 330.71L404.45 327.51Z" fill="#0008fb" stroke="#0006c3"/><path d="M454.04 317.64L462.35 322.29L454.14 330.09L445.82 325.42Z" fill="#0018f3" stroke="#0012bd"/><path d="M396.13 324.3L404.45 327.51L396.23 331.96L387.91 328.76Z" fill="#0000ff" stroke="#0000c6"/><path d="M437.51 320.32L445.82 325.42L437.6 332.34L429.29 328.96Z" fill="#0014f5" stroke="#000fbf"/><path d="M420.98 325.05L429.29 328.96L421.07 333.92L412.76 330.71Z" fill="#0004fd" stroke="#0003c5"/><path d="M462.35 322.29L470.67 330.17L462.45 334.62L454.14 330.09Z" fill="#0014f5" stroke="#000fbf"/><path d="M404.45 327.51L412.76 330.71L404.54 335.17L396.23 331.96Z" fill="#0000ff" stroke="#0000c6"/><path d="M445.82 325.42L454.14 330.09L445.92 335.71L437.6 332.34Z" fill="#000cf9" stroke="#0009c2"/><path d="M429.29 328.96L437.6 332.34L429.39 337.13L421.07 333.92Z" fill="#0000ff" stroke="#0000c6"/><path d="M412.76 330.71L421.07 333.92L412.86 338.38L404.54 335.17Z" fill="#0000ff" stroke="#0000c6"/><path d="M454.14 330.09L462.45 334.62L454.23 339.08L445.92 335.71Z" fill="#0004fd" stroke="#0003c5"/><path d="M437.6 332.34L445.92 335.71L437.7 340.33L429.39 337.13Z" fill="#0000ff" stroke="#0000c6"/><path d="M421.07 333.92L429.39 337.13L421.17 341.59L412.86 338.38Z" fill="#0000ff" stroke="#0000c6"/><path d="M445.92 335.71L454.23 339.08L446.02 343.54L437.7 340.33Z" fill="#0000ff" stroke="#0000c6"/><path d="M429.39 337.13L437.7 340.33L429.49 344.79L421.17 341.59Z" fill="#0000ff" stroke="#0000c6"/><path d="M437.7 340.33L446.02 343.54L437.8 348L429.49 344.79Z" fill="#0000ff" stroke="#0000c6"/></g>
<g font-family="Liberation Serif, serif" font-size="7.6" fill="#3a3a3a"><text x="316.2" y="303.7" text-anchor="end">0</text><text x="316.2" y="292.1" text-anchor="end">100</text><text x="316.2" y="280.5" text-anchor="end">200</text><text x="316.2" y="268.9" text-anchor="end">300</text><text x="316.2" y="257.3" text-anchor="end">400</text><text x="316.2" y="245.7" text-anchor="end">500</text><text x="316.8" y="311.9" text-anchor="end">−1</text><text x="345.9" y="323.13" text-anchor="end">−0.5</text><text x="375" y="334.35" text-anchor="end">0</text><text x="404.1" y="345.58" text-anchor="end">0.5</text><text x="433.2" y="356.8" text-anchor="end">1</text><text x="542" y="302.7">0</text><text x="500.92" y="324.99">0.5</text><text x="459.83" y="347.28">1</text></g>
<g font-family="Liberation Sans, Arial, sans-serif" fill="#262626"><text transform="translate(301.4 274.4) rotate(-90)" font-size="8.8" font-style="italic" text-anchor="middle">InfusionRate</text><text transform="translate(356.7 350.4) rotate(21.09)" font-size="9.02" text-anchor="middle">(d/dt)PerformanceError</text><text transform="translate(518.5 337.9) rotate(-29.78)" font-size="8.8" text-anchor="middle">PerformanceError</text></g>
<g stroke="#dedede" stroke-width="0.5" fill="none">
<line x1="46.3" y1="476.4" x2="133.1" y2="430.6"/>
<line x1="133.1" y1="430.6" x2="235" y2="469.2"/>
<line x1="46.3" y1="466.16" x2="133.1" y2="420.36"/>
<line x1="133.1" y1="420.36" x2="235" y2="458.96"/>
<line x1="46.3" y1="455.92" x2="133.1" y2="410.12"/>
<line x1="133.1" y1="410.12" x2="235" y2="448.72"/>
<line x1="46.3" y1="445.68" x2="133.1" y2="399.88"/>
<line x1="133.1" y1="399.88" x2="235" y2="438.48"/>
<line x1="46.3" y1="435.44" x2="133.1" y2="389.64"/>
<line x1="133.1" y1="389.64" x2="235" y2="428.24"/>
<line x1="46.3" y1="425.2" x2="133.1" y2="379.4"/>
<line x1="133.1" y1="379.4" x2="235" y2="418"/>
<line x1="133.1" y1="430.6" x2="133.1" y2="379.4"/>
<line x1="133.1" y1="430.6" x2="46.3" y2="476.4"/>
<line x1="158.57" y1="440.25" x2="158.57" y2="389.05"/>
<line x1="158.57" y1="440.25" x2="71.78" y2="486.05"/>
<line x1="184.05" y1="449.9" x2="184.05" y2="398.7"/>
<line x1="184.05" y1="449.9" x2="97.25" y2="495.7"/>
<line x1="209.53" y1="459.55" x2="209.53" y2="408.35"/>
<line x1="209.53" y1="459.55" x2="122.73" y2="505.35"/>
<line x1="235" y1="469.2" x2="235" y2="418"/>
<line x1="235" y1="469.2" x2="148.2" y2="515"/>
<line x1="133.1" y1="430.6" x2="133.1" y2="379.4"/>
<line x1="133.1" y1="430.6" x2="235" y2="469.2"/>
<line x1="96.93" y1="449.68" x2="96.93" y2="398.48"/>
<line x1="96.93" y1="449.68" x2="198.83" y2="488.28"/>
<line x1="60.77" y1="468.77" x2="60.77" y2="417.57"/>
<line x1="60.77" y1="468.77" x2="162.67" y2="507.37"/>
</g>
<g stroke="#4d4d4d" stroke-width="0.6" fill="none"><line x1="46.3" y1="476.4" x2="46.3" y2="425.2"/><line x1="46.3" y1="476.4" x2="148.2" y2="515"/><line x1="148.2" y1="515" x2="235" y2="469.2"/><line x1="46.3" y1="476.4" x2="44.11" y2="475.57"/><line x1="46.3" y1="466.16" x2="44.11" y2="465.33"/><line x1="46.3" y1="455.92" x2="44.11" y2="455.09"/><line x1="46.3" y1="445.68" x2="44.11" y2="444.85"/><line x1="46.3" y1="435.44" x2="44.11" y2="434.61"/><line x1="46.3" y1="425.2" x2="44.11" y2="424.37"/><line x1="46.3" y1="476.4" x2="44.23" y2="477.49"/><line x1="71.78" y1="486.05" x2="69.71" y2="487.14"/><line x1="97.25" y1="495.7" x2="95.18" y2="496.79"/><line x1="122.73" y1="505.35" x2="120.66" y2="506.44"/><line x1="148.2" y1="515" x2="146.13" y2="516.09"/><line x1="235" y1="469.2" x2="237.19" y2="470.03"/><line x1="198.83" y1="488.28" x2="201.02" y2="489.11"/><line x1="162.67" y1="507.37" x2="164.85" y2="508.2"/></g>
<g stroke-width="0.5" stroke-linejoin="round"><path d="M133.1 379.4L140.38 382.16L133.15 386.37L125.87 383.61Z" fill="#00ff80" stroke="#00c663"/><path d="M140.38 382.16L147.66 384.91L140.42 389.12L133.15 386.37Z" fill="#00ff80" stroke="#00c663"/><path d="M125.87 383.61L133.15 386.37L125.91 390.58L118.63 387.82Z" fill="#00ff80" stroke="#00c663"/><path d="M147.66 384.91L154.94 387.67L147.7 391.89L140.42 389.12Z" fill="#00ff80" stroke="#00c663"/><path d="M133.15 386.37L140.42 389.12L133.19 393.34L125.91 390.58Z" fill="#00ff80" stroke="#00c663"/><path d="M118.63 387.82L125.91 390.58L118.68 396.14L111.4 393.38Z" fill="#00ff80" stroke="#00c663"/><path d="M154.94 387.67L162.21 390.43L154.98 394.82L147.7 391.89Z" fill="#00ff80" stroke="#00c663"/><path d="M140.42 389.12L147.7 391.89L140.47 396.1L133.19 393.34Z" fill="#00ff80" stroke="#00c663"/><path d="M125.91 390.58L133.19 393.34L125.96 398.9L118.68 396.14Z" fill="#00ff80" stroke="#00c663"/><path d="M162.21 390.43L169.49 393.19L162.26 397.89L154.98 394.82Z" fill="#00ff80" stroke="#00c663"/><path d="M111.4 393.38L118.68 396.14L111.45 403.73L104.17 400.97Z" fill="#00f386" stroke="#00bd68"/><path d="M147.7 391.89L154.98 394.82L147.75 399.22L140.47 396.1Z" fill="#00ff80" stroke="#00c663"/><path d="M133.19 393.34L140.47 396.1L133.24 401.67L125.96 398.9Z" fill="#00ff80" stroke="#00c663"/><path d="M169.49 393.19L176.77 395.94L169.54 400.95L162.26 397.89Z" fill="#00ff80" stroke="#00c663"/><path d="M118.68 396.14L125.96 398.9L118.72 406.49L111.45 403.73Z" fill="#00f386" stroke="#00bd68"/><path d="M154.98 394.82L162.26 397.89L155.03 402.6L147.75 399.22Z" fill="#00ff80" stroke="#00c663"/><path d="M104.17 400.97L111.45 403.73L104.21 411.99L96.93 409.24Z" fill="#00e38e" stroke="#00b16e"/><path d="M140.47 396.1L147.75 399.22L140.51 404.97L133.24 401.67Z" fill="#00ff80" stroke="#00c663"/><path d="M176.77 395.94L184.05 398.7L176.82 403.84L169.54 400.95Z" fill="#00ff80" stroke="#00c663"/><path d="M125.96 398.9L133.24 401.67L126 409.26L118.72 406.49Z" fill="#00f386" stroke="#00bd68"/><path d="M162.26 397.89L169.54 400.95L162.3 405.96L155.03 402.6Z" fill="#00fb82" stroke="#00c365"/><path d="M111.45 403.73L118.72 406.49L111.49 414.75L104.21 411.99Z" fill="#00e38e" stroke="#00b16e"/><path d="M147.75 399.22L155.03 402.6L147.79 408.66L140.51 404.97Z" fill="#00fb82" stroke="#00c365"/><path d="M96.93 409.24L104.21 411.99L96.98 420.93L89.7 418.17Z" fill="#00ca9a" stroke="#009d78"/><path d="M184.05 398.7L191.33 401.46L184.1 406.6L176.82 403.84Z" fill="#00ff80" stroke="#00c663"/><path d="M133.24 401.67L140.51 404.97L133.28 412.6L126 409.26Z" fill="#00f386" stroke="#00bd68"/><path d="M169.54 400.95L176.82 403.84L169.58 408.98L162.3 405.96Z" fill="#00fb82" stroke="#00c365"/><path d="M118.72 406.49L126 409.26L118.77 417.54L111.49 414.75Z" fill="#00e38e" stroke="#00b16e"/><path d="M155.03 402.6L162.3 405.96L155.07 412.32L147.79 408.66Z" fill="#00f784" stroke="#00c066"/><path d="M104.21 411.99L111.49 414.75L104.26 423.69L96.98 420.93Z" fill="#00ca9a" stroke="#009d78"/><path d="M191.33 401.46L198.61 404.21L191.37 409.35L184.1 406.6Z" fill="#00ff80" stroke="#00c663"/><path d="M140.51 404.97L147.79 408.66L140.56 416.37L133.28 412.6Z" fill="#00f386" stroke="#00bd68"/><path d="M89.7 418.17L96.98 420.93L89.75 421.62L82.47 418.86Z" fill="#00b2a6" stroke="#008a81"/><path d="M176.82 403.84L184.1 406.6L176.86 411.74L169.58 408.98Z" fill="#00fb82" stroke="#00c365"/><path d="M126 409.26L133.28 412.6L126.05 421.25L118.77 417.54Z" fill="#00e38e" stroke="#00b16e"/><path d="M162.3 405.96L169.58 408.98L162.35 415.47L155.07 412.32Z" fill="#00f784" stroke="#00c066"/><path d="M111.49 414.75L118.77 417.54L111.54 426.49L104.26 423.69Z" fill="#00ca9a" stroke="#009d78"/><path d="M198.61 404.21L205.89 406.97L198.65 412.11L191.37 409.35Z" fill="#00ff80" stroke="#00c663"/><path d="M147.79 408.66L155.07 412.32L147.84 420.09L140.56 416.37Z" fill="#00eb8a" stroke="#00b76b"/><path d="M96.98 420.93L104.26 423.69L97.02 424.44L89.75 421.62Z" fill="#00b2a6" stroke="#008a81"/><path d="M184.1 406.6L191.37 409.35L184.14 414.49L176.86 411.74Z" fill="#00fb82" stroke="#00c365"/><path d="M133.28 412.6L140.56 416.37L133.33 425.67L126.05 421.25Z" fill="#00df90" stroke="#00ad70"/><path d="M82.47 418.86L89.75 421.62L82.51 420.84L75.23 418.06Z" fill="#00c29e" stroke="#00977b"/><path d="M169.58 408.98L176.86 411.74L169.63 418.23L162.35 415.47Z" fill="#00f386" stroke="#00bd68"/><path d="M118.77 417.54L126.05 421.25L118.81 430.7L111.54 426.49Z" fill="#00ca9a" stroke="#009d78"/><path d="M205.89 406.97L213.16 409.73L205.93 414.87L198.65 412.11Z" fill="#00ff80" stroke="#00c663"/><path d="M155.07 412.32L162.35 415.47L155.12 423.27L147.84 420.09Z" fill="#00e78c" stroke="#00b46d"/><path d="M104.26 423.69L111.54 426.49L104.3 431.18L97.02 424.44Z" fill="#00b2a6" stroke="#008a81"/><path d="M191.37 409.35L198.65 412.11L191.42 417.25L184.14 414.49Z" fill="#00fb82" stroke="#00c365"/><path d="M140.56 416.37L147.84 420.09L140.6 430.02L133.33 425.67Z" fill="#00db92" stroke="#00aa71"/><path d="M89.75 421.62L97.02 424.44L89.79 429.95L82.51 420.84Z" fill="#00c29e" stroke="#00977b"/><path d="M176.86 411.74L184.14 414.49L176.91 420.99L169.63 418.23Z" fill="#00f386" stroke="#00bd68"/><path d="M126.05 421.25L133.33 425.67L126.09 436.01L118.81 430.7Z" fill="#00c69c" stroke="#009a79"/><path d="M75.23 418.06L82.51 420.84L75.28 427.64L68 418.57Z" fill="#00d794" stroke="#00a773"/><path d="M213.16 409.73L220.44 412.49L213.21 417.63L205.93 414.87Z" fill="#00ff80" stroke="#00c663"/><path d="M162.35 415.47L169.63 418.23L162.4 426.03L155.12 423.27Z" fill="#00e78c" stroke="#00b46d"/><path d="M111.54 426.49L118.81 430.7L111.58 441.02L104.3 431.18Z" fill="#00b2a6" stroke="#008a81"/><path d="M198.65 412.11L205.93 414.87L198.7 420.01L191.42 417.25Z" fill="#00fb82" stroke="#00c365"/><path d="M147.84 420.09L155.12 423.27L147.88 433.49L140.6 430.02Z" fill="#00d296" stroke="#00a375"/><path d="M97.02 424.44L104.3 431.18L97.07 444.9L89.79 429.95Z" fill="#00bea0" stroke="#00947c"/><path d="M184.14 414.49L191.42 417.25L184.19 423.75L176.91 420.99Z" fill="#00f386" stroke="#00bd68"/><path d="M133.33 425.67L140.6 430.02L133.37 441.19L126.09 436.01Z" fill="#00bea0" stroke="#00947c"/><path d="M82.51 420.84L89.79 429.95L82.56 444.36L75.28 427.64Z" fill="#00d794" stroke="#00a773"/><path d="M220.44 412.49L227.72 415.24L220.49 420.38L213.21 417.63Z" fill="#00ff80" stroke="#00c663"/><path d="M169.63 418.23L176.91 420.99L169.67 428.79L162.4 426.03Z" fill="#00e78c" stroke="#00b46d"/><path d="M118.81 430.7L126.09 436.01L118.86 449.73L111.58 441.02Z" fill="#00aaaa" stroke="#008484"/><path d="M68 418.57L75.28 427.64L68.05 433.07L60.77 420.61Z" fill="#00e78c" stroke="#00b46d"/><path d="M205.93 414.87L213.21 417.63L205.98 422.76L198.7 420.01Z" fill="#00fb82" stroke="#00c365"/><path d="M155.12 423.27L162.4 426.03L155.16 436.25L147.88 433.49Z" fill="#00d296" stroke="#00a375"/><path d="M104.3 431.18L111.58 441.02L104.35 458.17L97.07 444.9Z" fill="#00aea8" stroke="#008783"/><path d="M191.42 417.25L198.7 420.01L191.46 426.5L184.19 423.75Z" fill="#00f386" stroke="#00bd68"/><path d="M140.6 430.02L147.88 433.49L140.65 445.03L133.37 441.19Z" fill="#00b6a4" stroke="#008d7f"/><path d="M89.79 429.95L97.07 444.9L89.84 461.3L82.56 444.36Z" fill="#00b6a4" stroke="#008d7f"/><path d="M227.72 415.24L235 418L227.77 423.14L220.49 420.38Z" fill="#00ff80" stroke="#00c663"/><path d="M176.91 420.99L184.19 423.75L176.95 431.55L169.67 428.79Z" fill="#00e78c" stroke="#00b46d"/><path d="M126.09 436.01L133.37 441.19L126.14 453.76L118.86 449.73Z" fill="#009eb0" stroke="#007b89"/><path d="M75.28 427.64L82.56 444.36L75.32 452.27L68.05 433.07Z" fill="#00ca9a" stroke="#009d78"/><path d="M213.21 417.63L220.49 420.38L213.25 425.52L205.98 422.76Z" fill="#00fb82" stroke="#00c365"/><path d="M162.4 426.03L169.67 428.79L162.44 439L155.16 436.25Z" fill="#00d296" stroke="#00a375"/><path d="M111.58 441.02L118.86 449.73L111.63 463.3L104.35 458.17Z" fill="#008aba" stroke="#006b91"/><path d="M60.77 420.61L68.05 433.07L60.81 437.64L53.53 423.73Z" fill="#00f386" stroke="#00bd68"/><path d="M198.7 420.01L205.98 422.76L198.74 429.26L191.46 426.5Z" fill="#00f386" stroke="#00bd68"/><path d="M147.88 433.49L155.16 436.25L147.93 447.78L140.65 445.03Z" fill="#00b2a6" stroke="#008a81"/><path d="M97.07 444.9L104.35 458.17L97.11 471.03L89.84 461.3Z" fill="#0079c2" stroke="#005e97"/><path d="M184.19 423.75L191.46 426.5L184.23 434.3L176.95 431.55Z" fill="#00e78c" stroke="#00b46d"/><path d="M133.37 441.19L140.65 445.03L133.42 456.51L126.14 453.76Z" fill="#0092b6" stroke="#00718d"/><path d="M82.56 444.36L89.84 461.3L82.6 470.23L75.32 452.27Z" fill="#0082be" stroke="#006594"/><path d="M220.49 420.38L227.77 423.14L220.53 428.28L213.25 425.52Z" fill="#00fb82" stroke="#00c365"/><path d="M169.67 428.79L176.95 431.55L169.72 441.76L162.44 439Z" fill="#00d296" stroke="#00a375"/><path d="M118.86 449.73L126.14 453.76L118.9 466.06L111.63 463.3Z" fill="#0069ca" stroke="#00519d"/><path d="M68.05 433.07L75.32 452.27L68.09 457.61L60.81 437.64Z" fill="#00c29e" stroke="#00977b"/><path d="M205.98 422.76L213.25 425.52L206.02 432.02L198.74 429.26Z" fill="#00f386" stroke="#00bd68"/><path d="M155.16 436.25L162.44 439L155.21 450.54L147.93 447.78Z" fill="#00b2a6" stroke="#008a81"/><path d="M104.35 458.17L111.63 463.3L104.39 473.81L97.11 471.03Z" fill="#0045dd" stroke="#0035ac"/><path d="M53.53 423.73L60.81 437.64L53.58 440.43L46.3 426.21Z" fill="#00f784" stroke="#00c066"/><path d="M191.46 426.5L198.74 429.26L191.51 437.06L184.23 434.3Z" fill="#00e78c" stroke="#00b46d"/><path d="M140.65 445.03L147.93 447.78L140.7 459.27L133.42 456.51Z" fill="#008aba" stroke="#006b91"/><path d="M89.84 461.3L97.11 471.03L89.88 478.98L82.6 470.23Z" fill="#0039e3" stroke="#002cb1"/><path d="M176.95 431.55L184.23 434.3L177 444.52L169.72 441.76Z" fill="#00d296" stroke="#00a375"/><path d="M126.14 453.76L133.42 456.51L126.18 468.81L118.9 466.06Z" fill="#0065cc" stroke="#004e9f"/><path d="M75.32 452.27L82.6 470.23L75.37 475.56L68.09 457.61Z" fill="#006dc8" stroke="#00559c"/><path d="M213.25 425.52L220.53 428.28L213.3 434.77L206.02 432.02Z" fill="#00f386" stroke="#00bd68"/><path d="M162.44 439L169.72 441.76L162.49 453.3L155.21 450.54Z" fill="#00b2a6" stroke="#008a81"/><path d="M111.63 463.3L118.9 466.06L111.67 476.57L104.39 473.81Z" fill="#0039e3" stroke="#002cb1"/><path d="M60.81 437.64L68.09 457.61L60.86 460.86L53.58 440.43Z" fill="#00bea0" stroke="#00947c"/><path d="M198.74 429.26L206.02 432.02L198.79 439.82L191.51 437.06Z" fill="#00e78c" stroke="#00b46d"/><path d="M147.93 447.78L155.21 450.54L147.97 462.03L140.7 459.27Z" fill="#008aba" stroke="#006b91"/><path d="M97.11 471.03L104.39 473.81L97.16 481.73L89.88 478.98Z" fill="#0018f3" stroke="#0012bd"/><path d="M184.23 434.3L191.51 437.06L184.28 447.27L177 444.52Z" fill="#00d296" stroke="#00a375"/><path d="M133.42 456.51L140.7 459.27L133.46 471.57L126.18 468.81Z" fill="#0065cc" stroke="#004e9f"/><path d="M82.6 470.23L89.88 478.98L82.65 483.61L75.37 475.56Z" fill="#0020ef" stroke="#0018ba"/><path d="M169.72 441.76L177 444.52L169.76 456.06L162.49 453.3Z" fill="#00b2a6" stroke="#008a81"/><path d="M118.9 466.06L126.18 468.81L118.95 479.33L111.67 476.57Z" fill="#0039e3" stroke="#002cb1"/><path d="M68.09 457.61L75.37 475.56L68.14 479.23L60.86 460.86Z" fill="#0065cc" stroke="#004e9f"/><path d="M206.02 432.02L213.3 434.77L206.07 442.57L198.79 439.82Z" fill="#00e78c" stroke="#00b46d"/><path d="M155.21 450.54L162.49 453.3L155.25 464.78L147.97 462.03Z" fill="#008aba" stroke="#006b91"/><path d="M104.39 473.81L111.67 476.57L104.44 484.49L97.16 481.73Z" fill="#0018f3" stroke="#0012bd"/><path d="M191.51 437.06L198.79 439.82L191.55 450.03L184.28 447.27Z" fill="#00d296" stroke="#00a375"/><path d="M140.7 459.27L147.97 462.03L140.74 474.33L133.46 471.57Z" fill="#0065cc" stroke="#004e9f"/><path d="M89.88 478.98L97.16 481.73L89.93 486.37L82.65 483.61Z" fill="#0004fd" stroke="#0003c5"/><path d="M177 444.52L184.28 447.27L177.04 458.81L169.76 456.06Z" fill="#00b2a6" stroke="#008a81"/><path d="M126.18 468.81L133.46 471.57L126.23 482.08L118.95 479.33Z" fill="#0039e3" stroke="#002cb1"/><path d="M75.37 475.56L82.65 483.61L75.41 487.43L68.14 479.23Z" fill="#0018f3" stroke="#0012bd"/><path d="M162.49 453.3L169.76 456.06L162.53 467.54L155.25 464.78Z" fill="#008aba" stroke="#006b91"/><path d="M111.67 476.57L118.95 479.33L111.72 487.25L104.44 484.49Z" fill="#0018f3" stroke="#0012bd"/><path d="M198.79 439.82L206.07 442.57L198.83 452.79L191.55 450.03Z" fill="#00d296" stroke="#00a375"/><path d="M147.97 462.03L155.25 464.78L148.02 477.09L140.74 474.33Z" fill="#0065cc" stroke="#004e9f"/><path d="M97.16 481.73L104.44 484.49L97.2 489.13L89.93 486.37Z" fill="#0004fd" stroke="#0003c5"/><path d="M184.28 447.27L191.55 450.03L184.32 461.57L177.04 458.81Z" fill="#00b2a6" stroke="#008a81"/><path d="M133.46 471.57L140.74 474.33L133.51 484.84L126.23 482.08Z" fill="#0039e3" stroke="#002cb1"/><path d="M82.65 483.61L89.93 486.37L82.69 490.19L75.41 487.43Z" fill="#0000ff" stroke="#0000c6"/><path d="M169.76 456.06L177.04 458.81L169.81 470.3L162.53 467.54Z" fill="#008aba" stroke="#006b91"/><path d="M118.95 479.33L126.23 482.08L119 490L111.72 487.25Z" fill="#0018f3" stroke="#0012bd"/><path d="M155.25 464.78L162.53 467.54L155.3 479.84L148.02 477.09Z" fill="#0065cc" stroke="#004e9f"/><path d="M104.44 484.49L111.72 487.25L104.48 491.88L97.2 489.13Z" fill="#0004fd" stroke="#0003c5"/><path d="M191.55 450.03L198.83 452.79L191.6 464.33L184.32 461.57Z" fill="#00b2a6" stroke="#008a81"/><path d="M140.74 474.33L148.02 477.09L140.79 487.6L133.51 484.84Z" fill="#0039e3" stroke="#002cb1"/><path d="M89.93 486.37L97.2 489.13L89.97 492.94L82.69 490.19Z" fill="#0000ff" stroke="#0000c6"/><path d="M177.04 458.81L184.32 461.57L177.09 473.06L169.81 470.3Z" fill="#008aba" stroke="#006b91"/><path d="M126.23 482.08L133.51 484.84L126.27 492.76L119 490Z" fill="#0018f3" stroke="#0012bd"/><path d="M162.53 467.54L169.81 470.3L162.58 482.6L155.3 479.84Z" fill="#0065cc" stroke="#004e9f"/><path d="M111.72 487.25L119 490L111.76 494.64L104.48 491.88Z" fill="#0004fd" stroke="#0003c5"/><path d="M148.02 477.09L155.3 479.84L148.06 490.36L140.79 487.6Z" fill="#0039e3" stroke="#002cb1"/><path d="M97.2 489.13L104.48 491.88L97.25 495.7L89.97 492.94Z" fill="#0000ff" stroke="#0000c6"/><path d="M184.32 461.57L191.6 464.33L184.37 475.81L177.09 473.06Z" fill="#008aba" stroke="#006b91"/><path d="M133.51 484.84L140.79 487.6L133.55 495.52L126.27 492.76Z" fill="#0018f3" stroke="#0012bd"/><path d="M169.81 470.3L177.09 473.06L169.85 485.36L162.58 482.6Z" fill="#0065cc" stroke="#004e9f"/><path d="M119 490L126.27 492.76L119.04 497.4L111.76 494.64Z" fill="#0004fd" stroke="#0003c5"/><path d="M155.3 479.84L162.58 482.6L155.34 493.11L148.06 490.36Z" fill="#0039e3" stroke="#002cb1"/><path d="M104.48 491.88L111.76 494.64L104.53 498.46L97.25 495.7Z" fill="#0000ff" stroke="#0000c6"/><path d="M140.79 487.6L148.06 490.36L140.83 498.28L133.55 495.52Z" fill="#0018f3" stroke="#0012bd"/><path d="M177.09 473.06L184.37 475.81L177.13 488.11L169.85 485.36Z" fill="#0065cc" stroke="#004e9f"/><path d="M126.27 492.76L133.55 495.52L126.32 500.15L119.04 497.4Z" fill="#0004fd" stroke="#0003c5"/><path d="M162.58 482.6L169.85 485.36L162.62 495.87L155.34 493.11Z" fill="#0039e3" stroke="#002cb1"/><path d="M111.76 494.64L119.04 497.4L111.81 501.21L104.53 498.46Z" fill="#0000ff" stroke="#0000c6"/><path d="M148.06 490.36L155.34 493.11L148.11 501.03L140.83 498.28Z" fill="#0018f3" stroke="#0012bd"/><path d="M133.55 495.52L140.83 498.28L133.6 502.91L126.32 500.15Z" fill="#0004fd" stroke="#0003c5"/><path d="M169.85 485.36L177.13 488.11L169.9 498.63L162.62 495.87Z" fill="#0039e3" stroke="#002cb1"/><path d="M119.04 497.4L126.32 500.15L119.09 503.97L111.81 501.21Z" fill="#0000ff" stroke="#0000c6"/><path d="M155.34 493.11L162.62 495.87L155.39 503.79L148.11 501.03Z" fill="#0018f3" stroke="#0012bd"/><path d="M140.83 498.28L148.11 501.03L140.88 505.67L133.6 502.91Z" fill="#0004fd" stroke="#0003c5"/><path d="M126.32 500.15L133.6 502.91L126.36 506.73L119.09 503.97Z" fill="#0000ff" stroke="#0000c6"/><path d="M162.62 495.87L169.9 498.63L162.67 506.55L155.39 503.79Z" fill="#0018f3" stroke="#0012bd"/><path d="M148.11 501.03L155.39 503.79L148.15 508.43L140.88 505.67Z" fill="#0004fd" stroke="#0003c5"/><path d="M133.6 502.91L140.88 505.67L133.64 509.49L126.36 506.73Z" fill="#0000ff" stroke="#0000c6"/><path d="M155.39 503.79L162.67 506.55L155.43 511.18L148.15 508.43Z" fill="#0004fd" stroke="#0003c5"/><path d="M140.88 505.67L148.15 508.43L140.92 512.24L133.64 509.49Z" fill="#0000ff" stroke="#0000c6"/><path d="M148.15 508.43L155.43 511.18L148.2 515L140.92 512.24Z" fill="#0000ff" stroke="#0000c6"/></g>
<g font-family="Liberation Serif, serif" font-size="6.7" fill="#5a5a5a"><text x="41.62" y="476.94" text-anchor="end">0</text><text x="41.62" y="466.7" text-anchor="end">100</text><text x="41.62" y="456.46" text-anchor="end">200</text><text x="41.62" y="446.22" text-anchor="end">300</text><text x="41.62" y="435.98" text-anchor="end">400</text><text x="41.62" y="425.74" text-anchor="end">500</text><text x="42.16" y="484.32" text-anchor="end">−1</text><text x="67.64" y="493.97" text-anchor="end">−0.5</text><text x="93.11" y="503.62" text-anchor="end">0</text><text x="118.59" y="513.27" text-anchor="end">0.5</text><text x="144.06" y="522.92" text-anchor="end">1</text><text x="240.04" y="476.58">0</text><text x="203.87" y="495.66">0.5</text><text x="167.71" y="514.75">1</text></g>
<g font-family="Liberation Sans, Arial, sans-serif" fill="#262626"><text transform="translate(28.8 451) rotate(-90)" font-size="7.8" font-style="italic" text-anchor="middle">InfusionRate</text><text transform="translate(77.8 516.9) rotate(20.75)" font-size="7.99" text-anchor="middle">(d/dt)PerformanceError</text><text transform="translate(219.7 507.7) rotate(-29.12)" font-size="7.8" text-anchor="middle">PerformanceError</text></g>
<g font-family="Liberation Sans, Arial, sans-serif" font-weight="bold" font-size="14.2" fill="#000"><text x="1.4" y="45.8">(A)</text><text x="274.3" y="45.7">(B)</text><text x="1.4" y="220.1">(C)</text><text x="274.7" y="219.9">(D)</text><text x="1.4" y="392.6">(E)</text></g>
<defs><linearGradient id="cbg" x1="0" y1="1" x2="0" y2="0"><stop offset="0" stop-color="#0000ff"/><stop offset="1" stop-color="#00ff80"/></linearGradient></defs>
<rect x="252.3" y="380" width="10.5" height="135" fill="url(#cbg)"/>
<g font-family="Liberation Sans, Arial, sans-serif" font-size="6.6" fill="#555555"><text x="265.0" y="382.9">500</text><text x="265.0" y="409.9">400</text><text x="265.0" y="436.9">300</text><text x="265.0" y="463.9">200</text><text x="265.0" y="490.9">100</text><text x="265.0" y="517.9">0</text></g>
</svg></body></html>
